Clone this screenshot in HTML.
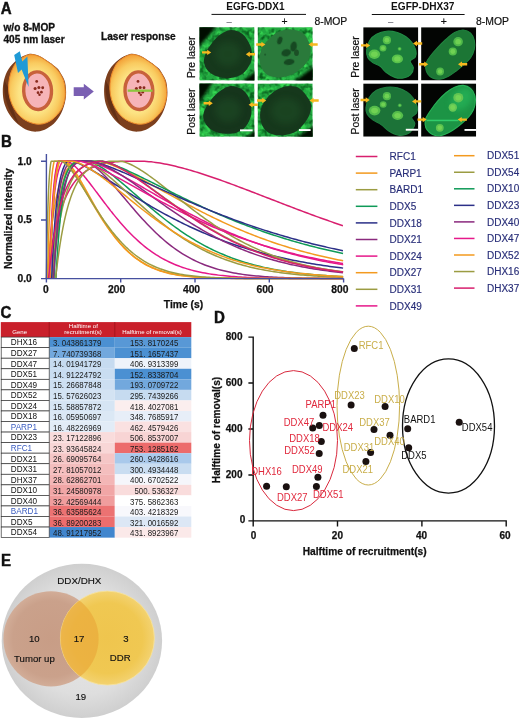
<!DOCTYPE html>
<html lang="en"><head><meta charset="utf-8"><title>Figure</title>
<style>
html,body{margin:0;padding:0;background:#fff;}
body{width:520px;height:720px;overflow:hidden;}
svg{display:block;font-family:"Liberation Sans", sans-serif;}
.b{font-weight:bold;}
.pl{font-size:16.4px;font-weight:bold;fill:#111;stroke:#111;stroke-width:0.45px;}
.t10b{font-size:10.1px;font-weight:bold;fill:#111;stroke:#111;stroke-width:0.3px;}
.ax{font-size:10.3px;font-weight:bold;fill:#111;stroke:#111;stroke-width:0.25px;}
.axd{font-size:10px;font-weight:bold;fill:#111;stroke:#111;stroke-width:0.25px;}
.lg{font-size:10px;fill:#272d78;stroke:#272d78;stroke-width:0.15px;}
.sc{font-size:10.4px;stroke:#111;stroke-width:0.2px;}
.th{font-size:6.1px;fill:#fff;text-anchor:middle;}
.tg{font-size:8.8px;fill:#111;}
.tn{font-size:9.3px;fill:#1a1a1a;}
.ve{font-size:9.6px;fill:#111;stroke:#111;stroke-width:0.15px;}
</style></head><body>
<svg width="520" height="720" viewBox="0 0 520 720">
<defs>
<filter id="bl1" x="-20%" y="-20%" width="140%" height="140%"><feGaussianBlur stdDeviation="0.9"/></filter>
<filter id="bl2" x="-20%" y="-20%" width="140%" height="140%"><feGaussianBlur stdDeviation="1.6"/></filter>
<filter id="bl3" x="-30%" y="-30%" width="160%" height="160%"><feGaussianBlur stdDeviation="3"/></filter>
<filter id="bl08" x="-20%" y="-20%" width="140%" height="140%"><feGaussianBlur stdDeviation="0.75"/></filter>
<filter id="bl05" x="-20%" y="-20%" width="140%" height="140%"><feGaussianBlur stdDeviation="0.5"/></filter>
<radialGradient id="cellg" cx="0.47" cy="0.55" r="0.58">
 <stop offset="0" stop-color="#fdea8c"/><stop offset="0.5" stop-color="#fce384"/><stop offset="0.74" stop-color="#f9cb60"/><stop offset="0.92" stop-color="#f4a63c"/><stop offset="1" stop-color="#ef8f2c"/>
</radialGradient>
<radialGradient id="greyg" cx="0.5" cy="0.5" r="0.5">
 <stop offset="0" stop-color="#e6e6e6"/><stop offset="0.7" stop-color="#dedede"/><stop offset="1" stop-color="#cfcfcf"/>
</radialGradient>
<radialGradient id="yelg" cx="0.5" cy="0.5" r="0.5">
 <stop offset="0" stop-color="#efc54e"/><stop offset="0.75" stop-color="#f0c852"/><stop offset="1" stop-color="#f3d270"/>
</radialGradient>
<radialGradient id="brog" cx="0.5" cy="0.5" r="0.5">
 <stop offset="0" stop-color="#c89d86"/><stop offset="0.8" stop-color="#caa18b"/><stop offset="1" stop-color="#d2ad98"/>
</radialGradient>
<g id="arrR"><path d="M0,-1.2 L5.2,-1.2 L5.2,-2.7 L9.2,0 L5.2,2.7 L5.2,1.2 L0,1.2 Z" fill="#f6b81f"/></g>
<g id="arrL"><path d="M0,0 L4,-2.7 L4,-1.2 L9.2,-1.2 L9.2,1.2 L4,1.2 L4,2.7 Z" fill="#f6b81f"/></g>
</defs>
<rect width="520" height="720" fill="#fff"/>

<text class="pl" transform="translate(0.8,13.7) scale(0.92,1)">A</text>
<text class="t10b" x="3.5" y="31.2">w/o 8-MOP</text>
<text class="t10b" x="3.5" y="43.2">405 nm laser</text>
<text class="t10b" x="101" y="40">Laser response</text>
<g transform="translate(0,0)"><path d="M28.70,54.00 C25.03,54.70 20.35,57.50 17.00,60.00 C13.65,62.50 10.77,65.67 8.60,69.00 C6.43,72.33 4.97,76.17 4.00,80.00 C3.03,83.83 2.72,88.00 2.80,92.00 C2.88,96.00 3.33,100.17 4.50,104.00 C5.67,107.83 7.55,111.62 9.80,115.00 C12.05,118.38 15.02,121.75 18.00,124.30 C20.98,126.85 24.45,129.08 27.70,130.30 C30.95,131.52 34.28,131.92 37.50,131.60 C40.72,131.28 43.95,130.08 47.00,128.40 C50.05,126.72 53.20,124.57 55.80,121.50 C58.40,118.43 60.90,114.25 62.60,110.00 C64.30,105.75 65.60,100.67 66.00,96.00 C66.40,91.33 65.85,85.75 65.00,82.00 C64.15,78.25 62.15,75.73 60.90,73.50 C59.65,71.27 58.90,70.12 57.50,68.60 C56.10,67.08 54.08,65.62 52.50,64.40 C50.92,63.18 50.25,62.73 48.00,61.30 C45.75,59.87 42.22,57.02 39.00,55.80 C35.78,54.58 32.37,53.30 28.70,54.00 Z" fill="#7c3f1d"/><path d="M4.2,80 C3,96 8,112 19,124.5 C14,113 9,100 8.4,88 Z" fill="#5d2c14" opacity="0.8"/><path d="M28.70,54.80 C32.23,54.03 35.78,55.20 39.00,56.40 C42.22,57.60 45.78,60.57 48.00,62.00 C50.22,63.43 50.83,63.80 52.30,65.00 C53.77,66.20 55.47,67.70 56.80,69.20 C58.13,70.70 59.08,71.78 60.30,74.00 C61.52,76.22 63.28,78.83 64.10,82.50 C64.92,86.17 65.55,91.75 65.20,96.00 C64.85,100.25 63.53,104.67 62.00,108.00 C60.47,111.33 58.00,113.83 56.00,116.00 C54.00,118.17 52.17,119.70 50.00,121.00 C47.83,122.30 45.33,123.30 43.00,123.80 C40.67,124.30 38.50,124.37 36.00,124.00 C33.50,123.63 30.63,122.87 28.00,121.60 C25.37,120.33 22.53,118.62 20.20,116.40 C17.87,114.18 15.68,111.20 14.00,108.30 C12.32,105.40 11.00,102.22 10.10,99.00 C9.20,95.78 8.70,92.50 8.60,89.00 C8.50,85.50 8.82,81.42 9.50,78.00 C10.18,74.58 11.32,71.33 12.70,68.50 C14.08,65.67 15.13,63.28 17.80,61.00 C20.47,58.72 25.17,55.57 28.70,54.80 Z" fill="url(#cellg)" stroke="#ee8c2c" stroke-width="1"/><ellipse cx="37.6" cy="90.7" rx="13.9" ry="18.8" transform="rotate(-3 37.6 90.7)" fill="#f6b4b8" stroke="#c8613b" stroke-width="3.4"/><circle cx="36.7" cy="81.4" r="1.4" fill="#8a2a1e"/><circle cx="35.1" cy="88.5" r="1.55" fill="#8a2a1e"/><circle cx="38.9" cy="87.4" r="1.5" fill="#8a2a1e"/><circle cx="42.7" cy="87.7" r="1.45" fill="#8a2a1e"/><circle cx="38" cy="92.7" r="1.35" fill="#8a2a1e"/><circle cx="41.4" cy="92.2" r="1.35" fill="#8a2a1e"/><circle cx="39.5" cy="94.8" r="1.25" fill="#8a2a1e"/><path d="M14.2,55 L19.8,51.3 L22.3,61.6 L27.4,56.4 L28.6,87 L21.6,69.4 L18,73 Z" fill="#1f9ad6"/></g>
<g transform="translate(101.3,0)"><path d="M28.70,54.00 C25.03,54.70 20.35,57.50 17.00,60.00 C13.65,62.50 10.77,65.67 8.60,69.00 C6.43,72.33 4.97,76.17 4.00,80.00 C3.03,83.83 2.72,88.00 2.80,92.00 C2.88,96.00 3.33,100.17 4.50,104.00 C5.67,107.83 7.55,111.62 9.80,115.00 C12.05,118.38 15.02,121.75 18.00,124.30 C20.98,126.85 24.45,129.08 27.70,130.30 C30.95,131.52 34.28,131.92 37.50,131.60 C40.72,131.28 43.95,130.08 47.00,128.40 C50.05,126.72 53.20,124.57 55.80,121.50 C58.40,118.43 60.90,114.25 62.60,110.00 C64.30,105.75 65.60,100.67 66.00,96.00 C66.40,91.33 65.85,85.75 65.00,82.00 C64.15,78.25 62.15,75.73 60.90,73.50 C59.65,71.27 58.90,70.12 57.50,68.60 C56.10,67.08 54.08,65.62 52.50,64.40 C50.92,63.18 50.25,62.73 48.00,61.30 C45.75,59.87 42.22,57.02 39.00,55.80 C35.78,54.58 32.37,53.30 28.70,54.00 Z" fill="#7c3f1d"/><path d="M4.2,80 C3,96 8,112 19,124.5 C14,113 9,100 8.4,88 Z" fill="#5d2c14" opacity="0.8"/><path d="M28.70,54.80 C32.23,54.03 35.78,55.20 39.00,56.40 C42.22,57.60 45.78,60.57 48.00,62.00 C50.22,63.43 50.83,63.80 52.30,65.00 C53.77,66.20 55.47,67.70 56.80,69.20 C58.13,70.70 59.08,71.78 60.30,74.00 C61.52,76.22 63.28,78.83 64.10,82.50 C64.92,86.17 65.55,91.75 65.20,96.00 C64.85,100.25 63.53,104.67 62.00,108.00 C60.47,111.33 58.00,113.83 56.00,116.00 C54.00,118.17 52.17,119.70 50.00,121.00 C47.83,122.30 45.33,123.30 43.00,123.80 C40.67,124.30 38.50,124.37 36.00,124.00 C33.50,123.63 30.63,122.87 28.00,121.60 C25.37,120.33 22.53,118.62 20.20,116.40 C17.87,114.18 15.68,111.20 14.00,108.30 C12.32,105.40 11.00,102.22 10.10,99.00 C9.20,95.78 8.70,92.50 8.60,89.00 C8.50,85.50 8.82,81.42 9.50,78.00 C10.18,74.58 11.32,71.33 12.70,68.50 C14.08,65.67 15.13,63.28 17.80,61.00 C20.47,58.72 25.17,55.57 28.70,54.80 Z" fill="url(#cellg)" stroke="#ee8c2c" stroke-width="1"/><ellipse cx="37.6" cy="90.7" rx="13.9" ry="18.8" transform="rotate(-3 37.6 90.7)" fill="#f6b4b8" stroke="#c8613b" stroke-width="3.4"/><circle cx="36.7" cy="81.4" r="1.4" fill="#8a2a1e"/><circle cx="35.1" cy="88.5" r="1.55" fill="#8a2a1e"/><circle cx="38.9" cy="87.4" r="1.5" fill="#8a2a1e"/><circle cx="42.7" cy="87.7" r="1.45" fill="#8a2a1e"/><circle cx="38" cy="92.7" r="1.35" fill="#8a2a1e"/><circle cx="41.4" cy="92.2" r="1.35" fill="#8a2a1e"/><circle cx="39.5" cy="94.8" r="1.25" fill="#8a2a1e"/><rect x="26.4" y="89.5" width="24.8" height="2.3" fill="#8cc63f"/></g>
<path d="M73.7,87.2 L83.8,87.2 L83.8,83.7 L93.8,91.6 L83.8,99.5 L83.8,96 L73.7,96 Z" fill="#7a5fb2"/>
<text x="255.4" y="9.8" text-anchor="middle" class="b" style="font-size:10px;fill:#111">EGFG-DDX1</text>
<rect x="211.5" y="13.9" width="94.5" height="1" fill="#111"/>
<text x="229.2" y="25.3" text-anchor="middle" style="font-size:9.6px" fill="#4a4a58">–</text>
<text x="284.6" y="25" text-anchor="middle" class="sc" fill="#111">+</text>
<text x="314.4" y="25.3" class="sc" fill="#111">8-MOP</text>
<text class="sc" transform="translate(195,57.3) rotate(-90)" text-anchor="middle" fill="#111">Pre laser</text>
<text class="sc" transform="translate(195,111.6) rotate(-90)" text-anchor="middle" fill="#111">Post laser</text>
<text x="422.8" y="9.7" text-anchor="middle" class="b" style="font-size:10.1px;fill:#111">EGFP-DHX37</text>
<rect x="371.8" y="14" width="92.8" height="1" fill="#111"/>
<text x="390.7" y="24.6" text-anchor="middle" style="font-size:9.6px" fill="#4a4a58">–</text>
<text x="443.8" y="25" text-anchor="middle" class="sc" fill="#111">+</text>
<text x="476" y="25.3" class="sc" fill="#111">8-MOP</text>
<text class="sc" transform="translate(358.7,57) rotate(-90)" text-anchor="middle" fill="#111">Pre laser</text>
<text class="sc" transform="translate(358.7,111.3) rotate(-90)" text-anchor="middle" fill="#111">Post laser</text>
<clipPath id="c1"><rect x="199.4" y="27.2" width="55.1" height="53.3"/></clipPath>
<clipPath id="c2"><rect x="257.6" y="27.2" width="55.1" height="53.3"/></clipPath>
<clipPath id="c3"><rect x="199.4" y="83.4" width="55.1" height="53.3"/></clipPath>
<clipPath id="c4"><rect x="257.6" y="83.4" width="55.1" height="53.3"/></clipPath>
<clipPath id="c5"><rect x="363.2" y="27.2" width="55.1" height="53.3"/></clipPath>
<clipPath id="c6"><rect x="421.1" y="27.2" width="55.1" height="53.3"/></clipPath>
<clipPath id="c7"><rect x="363.2" y="83.4" width="55.1" height="53.3"/></clipPath>
<clipPath id="c8"><rect x="421.1" y="83.4" width="55.1" height="53.3"/></clipPath>
<g clip-path="url(#c1)"><rect x="199.4" y="27.2" width="55.1" height="53.3" fill="#22a840"/><filter id="tx1" x="0" y="0" width="100%" height="100%" color-interpolation-filters="sRGB"><feTurbulence type="fractalNoise" baseFrequency="0.16" numOctaves="2" seed="3" result="n"/><feColorMatrix in="n" type="matrix" values="0 0 0 0 0.22  0 0 0 0 0.86  0 0 0 0 0.33  0 3.2 0 0 -1.45"/><feComposite in2="SourceGraphic" operator="in"/></filter><filter id="td1" x="0" y="0" width="100%" height="100%" color-interpolation-filters="sRGB"><feTurbulence type="fractalNoise" baseFrequency="0.2" numOctaves="2" seed="14" result="n"/><feColorMatrix in="n" type="matrix" values="0 0 0 0 0.04  0 0 0 0 0.38  0 0 0 0 0.12  3.0 0 0 0 -1.35"/><feComposite in2="SourceGraphic" operator="in"/></filter><rect x="199.4" y="27.2" width="55.1" height="53.3" fill="#fff" filter="url(#tx1)"/><rect x="199.4" y="27.2" width="55.1" height="53.3" fill="#fff" filter="url(#td1)"/><polygon points="195,23 219,23 195,52" fill="#020a04" filter="url(#bl2)"/><polygon points="258,84 240,84 258,69" fill="#020a04" filter="url(#bl2)"/><path d="M231.69,30.00 C235.38,30.00 239.69,31.74 242.77,34.31 C245.85,36.87 248.62,41.90 250.15,45.38 C251.69,48.87 252.00,52.15 252.00,55.23 C252.00,58.31 251.69,60.77 250.15,63.85 C248.62,66.92 246.05,71.33 242.77,73.69 C239.49,76.05 234.56,77.49 230.46,78.00 C226.36,78.51 221.85,77.90 218.15,76.77 C214.46,75.64 210.67,73.59 208.31,71.23 C205.95,68.87 204.41,65.69 204.00,62.62 C203.59,59.54 204.51,56.05 205.85,52.77 C207.18,49.49 209.54,46.00 212.00,42.92 C214.46,39.85 217.33,36.46 220.62,34.31 C223.90,32.15 228.00,30.00 231.69,30.00 Z" fill="#15391e" filter="url(#bl08)"/><ellipse cx="228" cy="54" rx="13" ry="12" fill="#245a2c" opacity="0.35" filter="url(#bl3)"/></g>
<g clip-path="url(#c3)"><rect x="199.4" y="83.4" width="55.1" height="53.3" fill="#22a840"/><filter id="tx3" x="0" y="0" width="100%" height="100%" color-interpolation-filters="sRGB"><feTurbulence type="fractalNoise" baseFrequency="0.16" numOctaves="2" seed="8" result="n"/><feColorMatrix in="n" type="matrix" values="0 0 0 0 0.22  0 0 0 0 0.86  0 0 0 0 0.33  0 3.2 0 0 -1.45"/><feComposite in2="SourceGraphic" operator="in"/></filter><filter id="td3" x="0" y="0" width="100%" height="100%" color-interpolation-filters="sRGB"><feTurbulence type="fractalNoise" baseFrequency="0.2" numOctaves="2" seed="19" result="n"/><feColorMatrix in="n" type="matrix" values="0 0 0 0 0.04  0 0 0 0 0.38  0 0 0 0 0.12  3.0 0 0 0 -1.35"/><feComposite in2="SourceGraphic" operator="in"/></filter><rect x="199.4" y="83.4" width="55.1" height="53.3" fill="#fff" filter="url(#tx3)"/><rect x="199.4" y="83.4" width="55.1" height="53.3" fill="#fff" filter="url(#td3)"/><polygon points="195,79 215,79 195,109" fill="#020a04" filter="url(#bl2)"/><polygon points="258,140 243,140 258,128" fill="#020a04" filter="url(#bl2)"/><path d="M230.46,86.00 C234.15,85.59 238.46,87.13 241.54,89.08 C244.62,91.03 247.28,94.41 248.92,97.69 C250.56,100.97 251.18,105.28 251.38,108.77 C251.59,112.26 251.38,115.33 250.15,118.62 C248.92,121.90 246.87,126.00 244.00,128.46 C241.13,130.92 237.23,132.67 232.92,133.38 C228.62,134.10 222.26,133.79 218.15,132.77 C214.05,131.74 210.77,129.59 208.31,127.23 C205.85,124.87 204.00,121.49 203.38,118.62 C202.77,115.74 203.38,113.08 204.62,110.00 C205.85,106.92 208.31,103.23 210.77,100.15 C213.23,97.08 216.10,93.90 219.38,91.54 C222.67,89.18 226.77,86.41 230.46,86.00 Z" fill="#14361c" filter="url(#bl08)"/><ellipse cx="228" cy="110" rx="13" ry="12" fill="#245a2c" opacity="0.35" filter="url(#bl3)"/></g>
<g clip-path="url(#c2)"><rect x="257.6" y="27.2" width="55.1" height="53.3" fill="#22a840"/><filter id="tx2" x="0" y="0" width="100%" height="100%" color-interpolation-filters="sRGB"><feTurbulence type="fractalNoise" baseFrequency="0.16" numOctaves="2" seed="5" result="n"/><feColorMatrix in="n" type="matrix" values="0 0 0 0 0.22  0 0 0 0 0.86  0 0 0 0 0.33  0 3.2 0 0 -1.45"/><feComposite in2="SourceGraphic" operator="in"/></filter><filter id="td2" x="0" y="0" width="100%" height="100%" color-interpolation-filters="sRGB"><feTurbulence type="fractalNoise" baseFrequency="0.2" numOctaves="2" seed="16" result="n"/><feColorMatrix in="n" type="matrix" values="0 0 0 0 0.04  0 0 0 0 0.38  0 0 0 0 0.12  3.0 0 0 0 -1.35"/><feComposite in2="SourceGraphic" operator="in"/></filter><rect x="257.6" y="27.2" width="55.1" height="53.3" fill="#fff" filter="url(#tx2)"/><rect x="257.6" y="27.2" width="55.1" height="53.3" fill="#fff" filter="url(#td2)"/><polygon points="316,84 291,84 316,65" fill="#020a04" filter="url(#bl2)"/><path d="M270.00,38.00 C272.67,35.54 275.13,33.28 278.62,31.85 C282.10,30.41 287.03,29.28 290.92,29.38 C294.82,29.49 299.13,30.62 302.00,32.46 C304.87,34.31 306.72,37.49 308.15,40.46 C309.59,43.44 310.62,47.03 310.62,50.31 C310.62,53.59 309.79,57.08 308.15,60.15 C306.51,63.23 303.64,66.31 300.77,68.77 C297.90,71.23 294.62,73.49 290.92,74.92 C287.23,76.36 282.51,77.38 278.62,77.38 C274.72,77.38 270.41,76.56 267.54,74.92 C264.67,73.28 262.72,70.41 261.38,67.54 C260.05,64.67 259.33,61.18 259.54,57.69 C259.74,54.21 260.87,49.90 262.62,46.62 C264.36,43.33 267.33,40.46 270.00,38.00 Z" fill="#2a7a3a" filter="url(#bl08)"/><ellipse cx="279.8" cy="40.5" rx="2.4" ry="4" transform="rotate(20 279.8 40.5)" fill="#184a24" filter="url(#bl08)"/><ellipse cx="293.6" cy="46.6" rx="3.2" ry="5" transform="rotate(10 293.6 46.6)" fill="#184a24" filter="url(#bl08)"/><ellipse cx="286.2" cy="52.8" rx="4.8" ry="3.6" transform="rotate(-15 286.2 52.8)" fill="#184a24" filter="url(#bl08)"/><ellipse cx="289.1" cy="62.0" rx="5.4" ry="3" transform="rotate(-8 289.1 62.0)" fill="#184a24" filter="url(#bl08)"/><ellipse cx="265.1" cy="54.6" rx="1" ry="1.2" transform="rotate(0 265.1 54.6)" fill="#1f5f2d" filter="url(#bl08)"/><ellipse cx="296.5" cy="52.8" rx="2.4" ry="3.2" transform="rotate(0 296.5 52.8)" fill="#1b5027" filter="url(#bl08)"/></g>
<g clip-path="url(#c4)"><rect x="257.6" y="83.4" width="55.1" height="53.3" fill="#22a840"/><filter id="tx4" x="0" y="0" width="100%" height="100%" color-interpolation-filters="sRGB"><feTurbulence type="fractalNoise" baseFrequency="0.16" numOctaves="2" seed="12" result="n"/><feColorMatrix in="n" type="matrix" values="0 0 0 0 0.22  0 0 0 0 0.86  0 0 0 0 0.33  0 3.2 0 0 -1.45"/><feComposite in2="SourceGraphic" operator="in"/></filter><filter id="td4" x="0" y="0" width="100%" height="100%" color-interpolation-filters="sRGB"><feTurbulence type="fractalNoise" baseFrequency="0.2" numOctaves="2" seed="23" result="n"/><feColorMatrix in="n" type="matrix" values="0 0 0 0 0.04  0 0 0 0 0.38  0 0 0 0 0.12  3.0 0 0 0 -1.35"/><feComposite in2="SourceGraphic" operator="in"/></filter><rect x="257.6" y="83.4" width="55.1" height="53.3" fill="#fff" filter="url(#tx4)"/><rect x="257.6" y="83.4" width="55.1" height="53.3" fill="#fff" filter="url(#td4)"/><polygon points="316,140 293,140 316,124" fill="#020a04" filter="url(#bl2)"/><path d="M272.46,92.77 C274.92,90.92 278.00,88.97 281.08,87.85 C284.15,86.72 287.85,85.90 290.92,86.00 C294.00,86.10 296.87,86.72 299.54,88.46 C302.21,90.21 304.97,93.69 306.92,96.46 C308.87,99.23 310.82,102.00 311.23,105.08 C311.64,108.15 310.72,111.64 309.38,114.92 C308.05,118.21 305.69,121.90 303.23,124.77 C300.77,127.64 298.10,130.41 294.62,132.15 C291.13,133.90 286.41,135.03 282.31,135.23 C278.21,135.44 273.18,134.72 270.00,133.38 C266.82,132.05 264.87,129.90 263.23,127.23 C261.59,124.56 260.46,120.67 260.15,117.38 C259.85,114.10 260.36,110.62 261.38,107.54 C262.41,104.46 264.46,101.38 266.31,98.92 C268.15,96.46 270.00,94.62 272.46,92.77 Z" fill="#15391e" filter="url(#bl08)"/><ellipse cx="286" cy="111" rx="15" ry="13" fill="#245a2c" opacity="0.35" filter="url(#bl3)"/></g>
<g clip-path="url(#c5)"><rect x="363.2" y="27.2" width="55.1" height="53.3" fill="#030503"/><path d="M366.62,50.31 C366.92,47.44 368.05,43.13 369.69,40.46 C371.33,37.79 373.69,35.85 376.46,34.31 C379.23,32.77 382.82,31.54 386.31,31.23 C389.79,30.92 394.10,31.54 397.38,32.46 C400.67,33.38 403.54,35.03 406.00,36.77 C408.46,38.51 410.51,40.67 412.15,42.92 C413.79,45.18 415.31,47.95 415.85,50.31 C416.38,52.67 416.30,55.27 415.35,57.08 C414.41,58.88 410.51,59.35 410.18,61.14 C409.86,62.92 413.36,65.49 413.38,67.78 C413.41,70.08 411.95,73.22 410.31,74.92 C408.67,76.63 406.10,77.59 403.54,78.00 C400.97,78.41 397.79,78.31 394.92,77.38 C392.05,76.46 388.77,74.31 386.31,72.46 C383.85,70.62 382.41,67.95 380.15,66.31 C377.90,64.67 374.82,64.05 372.77,62.62 C370.72,61.18 368.87,59.74 367.85,57.69 C366.82,55.64 366.31,53.18 366.62,50.31 Z" fill="#1d7e3a" stroke="#218a44" stroke-width="1.1" filter="url(#bl08)"/><ellipse cx="386.9" cy="40.2" rx="4.1" ry="4.1" fill="#52bd4a" filter="url(#bl05)"/><ellipse cx="386.9" cy="40.2" rx="2.38" ry="2.38" fill="#78d856" opacity="0.8" filter="url(#bl05)"/><ellipse cx="383.0" cy="48.2" rx="3.4" ry="3.2" fill="#52bd4a" filter="url(#bl05)"/><ellipse cx="383.0" cy="48.2" rx="1.97" ry="1.86" fill="#78d856" opacity="0.8" filter="url(#bl05)"/><ellipse cx="374.4" cy="54.2" rx="5.7" ry="4.7" fill="#58c24c" filter="url(#bl05)"/><ellipse cx="374.4" cy="54.2" rx="3.31" ry="2.73" fill="#78d856" opacity="0.8" filter="url(#bl05)"/><ellipse cx="397.4" cy="58.9" rx="5.6" ry="4.4" fill="#58c24c" filter="url(#bl05)"/><ellipse cx="397.4" cy="58.9" rx="3.25" ry="2.55" fill="#78d856" opacity="0.8" filter="url(#bl05)"/><ellipse cx="399.6" cy="48.8" rx="1.9" ry="1.9" fill="#3fb044" filter="url(#bl05)"/><ellipse cx="399.6" cy="48.8" rx="1.10" ry="1.10" fill="#78d856" opacity="0.8" filter="url(#bl05)"/></g>
<g clip-path="url(#c7)"><rect x="363.2" y="83.4" width="55.1" height="53.3" fill="#030503"/><path d="M366.00,107.54 C366.31,104.77 367.33,100.56 369.08,97.69 C370.82,94.82 373.59,92.05 376.46,90.31 C379.33,88.56 382.82,87.64 386.31,87.23 C389.79,86.82 393.90,87.03 397.38,87.85 C400.87,88.67 404.56,90.41 407.23,92.15 C409.90,93.90 411.74,95.95 413.38,98.31 C415.03,100.67 416.54,103.85 417.08,106.31 C417.61,108.77 417.49,111.23 416.58,113.08 C415.68,114.92 411.95,115.68 411.66,117.38 C411.37,119.09 414.74,121.24 414.86,123.29 C414.98,125.34 413.67,127.91 412.40,129.69 C411.13,131.48 409.53,133.08 407.23,134.00 C404.93,134.92 401.69,135.74 398.62,135.23 C395.54,134.72 391.64,132.67 388.77,130.92 C385.90,129.18 384.05,126.62 381.38,124.77 C378.72,122.92 375.13,121.59 372.77,119.85 C370.41,118.10 368.36,116.36 367.23,114.31 C366.10,112.26 365.69,110.31 366.00,107.54 Z" fill="#1e7338" stroke="#207e40" stroke-width="1.1" filter="url(#bl08)"/><ellipse cx="386.9" cy="96.2" rx="4.1" ry="4.1" fill="#4fb84a" filter="url(#bl05)"/><ellipse cx="386.9" cy="96.2" rx="2.38" ry="2.38" fill="#78d856" opacity="0.8" filter="url(#bl05)"/><ellipse cx="383.2" cy="104.5" rx="3.4" ry="3.3" fill="#4fb84a" filter="url(#bl05)"/><ellipse cx="383.2" cy="104.5" rx="1.97" ry="1.91" fill="#78d856" opacity="0.8" filter="url(#bl05)"/><ellipse cx="374.6" cy="110.6" rx="5.8" ry="4.8" fill="#55bd4c" filter="url(#bl05)"/><ellipse cx="374.6" cy="110.6" rx="3.36" ry="2.78" fill="#78d856" opacity="0.8" filter="url(#bl05)"/><ellipse cx="397.6" cy="115.5" rx="5.6" ry="4.4" fill="#55bd4c" filter="url(#bl05)"/><ellipse cx="397.6" cy="115.5" rx="3.25" ry="2.55" fill="#78d856" opacity="0.8" filter="url(#bl05)"/><ellipse cx="399.8" cy="105.3" rx="1.9" ry="1.9" fill="#3aa644" filter="url(#bl05)"/><ellipse cx="399.8" cy="105.3" rx="1.10" ry="1.10" fill="#78d856" opacity="0.8" filter="url(#bl05)"/></g>
<g clip-path="url(#c6)"><rect x="421.1" y="27.2" width="55.1" height="53.3" fill="#030503"/><path d="M426.31,62.62 C427.03,60.67 428.15,58.92 430.00,56.46 C431.85,54.00 434.72,50.72 437.38,47.85 C440.05,44.97 443.13,41.79 446.00,39.23 C448.87,36.67 451.74,34.00 454.62,32.46 C457.49,30.92 460.56,29.90 463.23,30.00 C465.90,30.10 468.77,31.33 470.62,33.08 C472.46,34.82 473.69,37.79 474.31,40.46 C474.92,43.13 474.92,46.21 474.31,49.08 C473.69,51.95 472.46,55.03 470.62,57.69 C468.77,60.36 465.69,62.82 463.23,65.08 C460.77,67.33 458.31,69.38 455.85,71.23 C453.38,73.08 451.13,74.82 448.46,76.15 C445.79,77.49 442.51,78.92 439.85,79.23 C437.18,79.54 434.51,78.92 432.46,78.00 C430.41,77.08 428.67,75.33 427.54,73.69 C426.41,72.05 425.90,70.00 425.69,68.15 C425.49,66.31 425.59,64.56 426.31,62.62 Z" fill="#1c7636" stroke="#20823e" stroke-width="1.1" filter="url(#bl08)"/><ellipse cx="458.1" cy="41.7" rx="4.8" ry="4.6" fill="#4fb84a" filter="url(#bl05)"/><ellipse cx="458.1" cy="41.7" rx="2.78" ry="2.67" fill="#78d856" opacity="0.8" filter="url(#bl05)"/><ellipse cx="452.8" cy="51.5" rx="4.1" ry="4.1" fill="#52bd4a" filter="url(#bl05)"/><ellipse cx="452.8" cy="51.5" rx="2.38" ry="2.38" fill="#78d856" opacity="0.8" filter="url(#bl05)"/><ellipse cx="440.1" cy="71.5" rx="3.9" ry="3.9" fill="#4fb84a" filter="url(#bl05)"/><ellipse cx="440.1" cy="71.5" rx="2.26" ry="2.26" fill="#78d856" opacity="0.8" filter="url(#bl05)"/></g>
<g clip-path="url(#c8)"><rect x="421.1" y="83.4" width="55.1" height="53.3" fill="#030503"/><path d="M425.69,118.62 C426.51,116.46 428.05,114.10 430.00,111.23 C431.95,108.36 434.72,104.46 437.38,101.38 C440.05,98.31 443.13,95.13 446.00,92.77 C448.87,90.41 451.74,88.46 454.62,87.23 C457.49,86.00 460.56,85.18 463.23,85.38 C465.90,85.59 468.67,86.72 470.62,88.46 C472.56,90.21 474.21,93.08 474.92,95.85 C475.64,98.62 475.54,102.10 474.92,105.08 C474.31,108.05 472.97,111.03 471.23,113.69 C469.49,116.36 466.82,118.82 464.46,121.08 C462.10,123.33 459.74,125.28 457.08,127.23 C454.41,129.18 451.33,131.33 448.46,132.77 C445.59,134.21 442.51,135.54 439.85,135.85 C437.18,136.15 434.62,135.64 432.46,134.62 C430.31,133.59 428.15,131.44 426.92,129.69 C425.69,127.95 425.28,126.00 425.08,124.15 C424.87,122.31 424.87,120.77 425.69,118.62 Z" fill="#1f9444" stroke="#27b056" stroke-width="1.1" filter="url(#bl08)"/><ellipse cx="462" cy="99" rx="9" ry="13" transform="rotate(40 462 99)" fill="#2cc060" opacity="0.55" filter="url(#bl3)"/><ellipse cx="458.3" cy="97.7" rx="5" ry="4.8" fill="#62c452" filter="url(#bl05)"/><ellipse cx="458.3" cy="97.7" rx="2.90" ry="2.78" fill="#78d856" opacity="0.8" filter="url(#bl05)"/><ellipse cx="452.8" cy="107.5" rx="4.2" ry="4.2" fill="#66c854" filter="url(#bl05)"/><ellipse cx="452.8" cy="107.5" rx="2.44" ry="2.44" fill="#78d856" opacity="0.8" filter="url(#bl05)"/><ellipse cx="439.8" cy="127.8" rx="3.9" ry="3.9" fill="#5cc250" filter="url(#bl05)"/><ellipse cx="439.8" cy="127.8" rx="2.26" ry="2.26" fill="#78d856" opacity="0.8" filter="url(#bl05)"/><rect x="426.5" y="119.7" width="32" height="1.5" fill="#35d672" opacity="0.85" filter="url(#bl05)"/></g>
<rect x="240" y="129.4" width="12.6" height="1.9" fill="#fff"/>
<rect x="299" y="129.1" width="11.6" height="1.9" fill="#fff"/>
<rect x="405.8" y="128.8" width="12.5" height="1.9" fill="#fff"/>
<rect x="464.5" y="129" width="11.7" height="1.9" fill="#fff"/>
<use href="#arrR" x="202" y="52.4"/>
<use href="#arrL" x="245.8" y="54.2"/>
<use href="#arrR" x="256.2" y="44.5"/>
<use href="#arrL" x="308.5" y="44.5"/>
<use href="#arrR" x="203.6" y="103.2"/>
<use href="#arrL" x="248.6" y="104.8"/>
<use href="#arrR" x="257" y="100.5"/>
<use href="#arrL" x="309.5" y="100.5"/>
<use href="#arrR" x="361" y="45.4"/>
<use href="#arrL" x="413" y="43.5"/>
<use href="#arrR" x="419" y="64.2"/>
<use href="#arrL" x="458" y="64.2"/>
<use href="#arrR" x="360.5" y="100"/>
<use href="#arrL" x="412" y="101.4"/>
<use href="#arrR" x="417.5" y="119.6"/>
<use href="#arrL" x="457.7" y="119.6"/>
<text class="pl" transform="translate(0.9,146.6) scale(0.92,1)">B</text>
<path d="M46.40,278.60 L46.77,275.99 L47.14,273.44 L47.51,270.95 L47.89,268.51 L48.26,266.13 L48.63,263.79 L49.00,261.51 L49.37,259.28 L49.74,257.10 L50.12,254.96 L50.49,252.88 L50.86,250.83 L51.23,248.84 L51.60,246.89 L51.97,244.98 L52.34,243.11 L52.72,241.28 L53.09,239.49 L53.46,237.75 L53.83,236.04 L54.20,234.37 L54.57,232.73 L54.95,231.13 L55.32,229.57 L55.69,228.04 L56.06,226.54 L56.43,225.08 L56.80,223.65 L57.17,222.25 L57.55,220.88 L57.92,219.54 L58.29,218.24 L58.66,216.95 L59.03,215.70 L59.40,214.48 L59.78,213.28 L60.15,212.11 L60.52,210.96 L60.89,209.84 L61.26,208.75 L61.63,207.68 L62.01,206.63 L62.38,205.60 L62.75,204.60 L63.12,203.62 L63.49,202.66 L63.86,201.72 L64.23,200.81 L64.61,199.91 L64.98,199.03 L65.35,198.17 L65.72,197.33 L66.09,196.51 L66.46,195.71 L66.84,194.92 L67.21,194.16 L67.58,193.41 L67.95,192.67 L68.32,191.95 L68.69,191.25 L69.06,190.56 L69.44,189.89 L69.81,189.23 L70.18,188.59 L70.55,187.96 L70.92,187.35 L71.29,186.75 L71.67,186.16 L72.04,185.58 L72.41,185.02 L72.78,184.47 L73.15,183.93 L73.52,183.40 L73.89,182.89 L74.27,182.39 L74.64,181.89 L75.01,181.41 L75.38,180.94 L75.75,180.48 L76.12,180.03 L76.50,179.59 L76.87,179.16 L77.24,178.74 L77.61,178.33 L77.98,177.92 L78.35,177.53 L78.72,177.14 L79.10,176.77 L79.47,176.40 L79.84,176.04 L80.21,175.68 L80.58,175.34 L80.95,175.00 L81.33,174.67 L81.70,174.35 L82.07,174.03 L82.44,173.72 L82.81,173.42 L83.18,173.13 L83.56,172.84 L83.93,172.55 L84.30,172.28 L84.67,172.01 L85.04,171.74 L85.41,171.48 L85.78,171.23 L86.16,170.98 L86.53,170.74 L86.90,170.51 L87.27,170.28 L87.64,170.05 L88.01,169.83 L88.39,169.61 L88.76,169.40 L89.13,169.19 L89.50,168.99 L89.87,168.79 L90.24,168.60 L90.61,168.41 L90.99,168.22 L91.36,168.04 L91.73,167.87 L92.10,167.69 L92.47,167.52 L92.84,167.36 L93.22,167.20 L93.59,167.04 L93.96,166.88 L94.33,166.73 L94.70,166.58 L95.07,166.44 L95.44,166.30 L95.82,166.16 L96.19,166.02 L96.56,165.89 L96.93,165.76 L97.30,165.63 L97.67,165.51 L98.05,165.39 L98.42,165.27 L98.79,165.15 L99.16,165.04 L99.53,164.93 L99.90,164.82 L100.27,164.71 L100.65,164.61 L101.02,164.51 L101.39,164.41 L101.76,164.31 L102.13,164.21 L102.50,164.12 L102.88,164.03 L103.25,163.94 L103.62,163.85 L103.99,163.77 L104.36,163.69 L104.73,163.60 L105.10,163.52 L105.48,163.45 L105.85,163.37 L106.22,163.30 L106.59,163.22 L106.96,163.15 L107.33,163.08 L107.71,163.01 L108.08,162.95 L108.45,162.88 L108.82,162.82 L109.19,162.76 L109.56,162.70 L109.94,162.64 L110.31,162.58 L110.68,162.52 L111.05,162.46 L111.42,162.41 L111.79,162.36 L112.16,162.30 L112.54,162.25 L112.91,162.20 L113.28,162.15 L115.51,161.88 L117.74,161.65 L119.97,161.44 L122.20,161.30 L124.43,161.30 L126.65,161.30 L128.88,161.30 L131.11,161.30 L133.34,161.30 L135.57,161.30 L137.80,161.30 L140.03,161.30 L142.26,161.30 L144.49,161.34 L146.72,161.46 L148.95,161.64 L151.18,161.86 L153.41,162.12 L155.64,162.42 L157.87,162.75 L160.09,163.11 L162.32,163.50 L164.55,163.92 L166.78,164.36 L169.01,164.82 L171.24,165.31 L173.47,165.82 L175.70,166.35 L177.93,166.90 L180.16,167.46 L182.39,168.05 L184.62,168.65 L186.85,169.27 L189.08,169.90 L191.30,170.55 L193.53,171.21 L195.76,171.89 L197.99,172.57 L200.22,173.28 L202.45,173.99 L204.68,174.71 L206.91,175.45 L209.14,176.19 L211.37,176.95 L213.60,177.71 L215.83,178.48 L218.06,179.26 L220.29,180.05 L222.51,180.85 L224.74,181.65 L226.97,182.46 L229.20,183.28 L231.43,184.10 L233.66,184.92 L235.89,185.75 L238.12,186.59 L240.35,187.43 L242.58,188.27 L244.81,189.12 L247.04,189.97 L249.27,190.82 L251.50,191.68 L253.72,192.54 L255.95,193.40 L258.18,194.26 L260.41,195.12 L262.64,195.98 L264.87,196.85 L267.10,197.71 L269.33,198.57 L271.56,199.44 L273.79,200.30 L276.02,201.16 L278.25,202.03 L280.48,202.89 L282.71,203.75 L284.94,204.60 L287.16,205.46 L289.39,206.31 L291.62,207.16 L293.85,208.01 L296.08,208.86 L298.31,209.70 L300.54,210.54 L302.77,211.38 L305.00,212.21 L307.23,213.04 L309.46,213.87 L311.69,214.69 L313.92,215.51 L316.15,216.33 L318.37,217.14 L320.60,217.94 L322.83,218.74 L325.06,219.54 L327.29,220.33 L329.52,221.12 L331.75,221.90 L333.98,222.68 L336.21,223.45 L338.44,224.21 L340.67,224.97 L342.90,225.73" fill="none" stroke="#d81f6e" stroke-width="1.5" stroke-linejoin="round"/>
<path d="M47.01,278.60 L47.38,273.29 L47.76,268.22 L48.13,263.37 L48.50,258.74 L48.87,254.31 L49.24,250.08 L49.61,246.04 L49.99,242.17 L50.36,238.48 L50.73,234.96 L51.10,231.58 L51.47,228.36 L51.84,225.29 L52.21,222.35 L52.59,219.54 L52.96,216.85 L53.33,214.29 L53.70,211.83 L54.07,209.49 L54.44,207.25 L54.82,205.11 L55.19,203.07 L55.56,201.12 L55.93,199.25 L56.30,197.47 L56.67,195.76 L57.04,194.13 L57.42,192.58 L57.79,191.09 L58.16,189.67 L58.53,188.31 L58.90,187.01 L59.27,185.77 L59.65,184.59 L60.02,183.46 L60.39,182.37 L60.76,181.34 L61.13,180.35 L61.50,179.41 L61.88,178.51 L62.25,177.65 L62.62,176.82 L62.99,176.03 L63.36,175.28 L63.73,174.56 L64.10,173.88 L64.48,173.22 L64.85,172.59 L65.22,171.99 L65.59,171.42 L65.96,170.88 L66.33,170.35 L66.71,169.85 L67.08,169.38 L67.45,168.92 L67.82,168.48 L68.19,168.07 L68.56,167.67 L68.93,167.29 L69.31,166.93 L69.68,166.58 L70.05,166.25 L70.42,165.93 L70.79,165.63 L71.16,165.34 L71.54,165.06 L71.91,164.80 L72.28,164.54 L72.65,164.30 L73.02,164.07 L73.39,163.85 L73.76,163.64 L74.14,163.44 L74.51,163.25 L74.88,163.06 L75.25,162.89 L75.62,162.72 L75.99,162.56 L76.37,162.41 L76.74,162.26 L77.11,162.12 L77.48,161.99 L77.85,161.86 L78.22,161.74 L78.59,161.62 L78.97,161.51 L79.34,161.40 L79.71,161.30 L80.08,161.30 L80.45,161.30 L80.82,161.30 L81.20,161.30 L81.57,161.30 L81.94,161.30 L82.31,161.30 L82.68,161.30 L83.05,161.30 L83.42,161.30 L83.80,161.30 L84.17,161.30 L84.54,161.30 L84.91,161.30 L85.28,161.30 L85.65,161.30 L86.03,161.30 L86.40,161.30 L86.77,161.30 L87.14,161.30 L87.51,161.30 L87.88,161.30 L88.26,161.30 L88.63,161.30 L89.00,161.30 L89.37,161.30 L89.74,161.30 L90.11,161.30 L90.48,161.30 L90.86,161.30 L91.23,161.30 L91.60,161.30 L91.97,161.30 L92.34,161.30 L92.71,161.30 L93.09,161.30 L93.46,161.30 L93.83,161.30 L94.20,161.30 L94.57,161.30 L94.94,161.30 L95.31,161.30 L95.69,161.30 L96.06,161.30 L96.43,161.30 L96.80,161.30 L97.17,161.30 L97.54,161.30 L97.92,161.30 L98.29,161.30 L98.66,161.31 L99.03,161.35 L99.40,161.40 L99.77,161.45 L100.14,161.51 L100.52,161.58 L100.89,161.65 L101.26,161.73 L101.63,161.81 L102.00,161.90 L102.37,161.98 L102.75,162.08 L103.12,162.17 L103.49,162.27 L103.86,162.37 L104.23,162.47 L104.60,162.58 L104.97,162.68 L105.35,162.79 L105.72,162.91 L106.09,163.02 L106.46,163.14 L106.83,163.26 L107.20,163.38 L107.58,163.50 L107.95,163.63 L108.32,163.75 L108.69,163.88 L109.06,164.01 L109.43,164.14 L109.81,164.28 L110.18,164.41 L110.55,164.55 L110.92,164.69 L111.29,164.82 L111.66,164.97 L112.03,165.11 L112.41,165.25 L112.78,165.40 L113.15,165.54 L113.52,165.69 L115.75,166.60 L117.98,167.56 L120.21,168.54 L122.44,169.56 L124.67,170.61 L126.90,171.69 L129.13,172.79 L131.35,173.90 L133.58,175.04 L135.81,176.19 L138.04,177.36 L140.27,178.54 L142.50,179.73 L144.73,180.93 L146.96,182.14 L149.19,183.36 L151.42,184.58 L153.65,185.81 L155.88,187.04 L158.11,188.27 L160.34,189.51 L162.57,190.74 L164.79,191.98 L167.02,193.21 L169.25,194.44 L171.48,195.67 L173.71,196.90 L175.94,198.12 L178.17,199.34 L180.40,200.55 L182.63,201.76 L184.86,202.96 L187.09,204.16 L189.32,205.35 L191.55,206.53 L193.78,207.70 L196.00,208.86 L198.23,210.02 L200.46,211.17 L202.69,212.30 L204.92,213.43 L207.15,214.55 L209.38,215.65 L211.61,216.75 L213.84,217.84 L216.07,218.91 L218.30,219.98 L220.53,221.03 L222.76,222.07 L224.99,223.10 L227.21,224.12 L229.44,225.13 L231.67,226.12 L233.90,227.10 L236.13,228.07 L238.36,229.03 L240.59,229.98 L242.82,230.91 L245.05,231.83 L247.28,232.74 L249.51,233.64 L251.74,234.52 L253.97,235.40 L256.20,236.26 L258.43,237.10 L260.65,237.94 L262.88,238.76 L265.11,239.57 L267.34,240.37 L269.57,241.15 L271.80,241.93 L274.03,242.69 L276.26,243.44 L278.49,244.18 L280.72,244.90 L282.95,245.62 L285.18,246.32 L287.41,247.01 L289.64,247.69 L291.86,248.35 L294.09,249.01 L296.32,249.65 L298.55,250.29 L300.78,250.91 L303.01,251.52 L305.24,252.12 L307.47,252.71 L309.70,253.29 L311.93,253.86 L314.16,254.41 L316.39,254.96 L318.62,255.50 L320.85,256.02 L323.07,256.54 L325.30,257.05 L327.53,257.55 L329.76,258.03 L331.99,258.51 L334.22,258.98 L336.45,259.44 L338.68,259.89 L340.91,260.33 L343.14,260.77" fill="none" stroke="#f39a1f" stroke-width="1.5" stroke-linejoin="round"/>
<path d="M52.47,278.60 L52.85,274.68 L53.22,270.89 L53.59,267.23 L53.96,263.68 L54.33,260.26 L54.70,256.94 L55.08,253.73 L55.45,250.63 L55.82,247.63 L56.19,244.73 L56.56,241.92 L56.93,239.21 L57.31,236.58 L57.68,234.04 L58.05,231.58 L58.42,229.21 L58.79,226.91 L59.16,224.69 L59.53,222.54 L59.91,220.46 L60.28,218.45 L60.65,216.50 L61.02,214.62 L61.39,212.80 L61.76,211.04 L62.14,209.34 L62.51,207.69 L62.88,206.10 L63.25,204.56 L63.62,203.07 L63.99,201.63 L64.36,200.23 L64.74,198.89 L65.11,197.58 L65.48,196.32 L65.85,195.10 L66.22,193.92 L66.59,192.78 L66.97,191.68 L67.34,190.61 L67.71,189.58 L68.08,188.58 L68.45,187.61 L68.82,186.68 L69.19,185.77 L69.57,184.90 L69.94,184.05 L70.31,183.24 L70.68,182.44 L71.05,181.68 L71.42,180.94 L71.80,180.22 L72.17,179.53 L72.54,178.86 L72.91,178.22 L73.28,177.59 L73.65,176.98 L74.02,176.40 L74.40,175.83 L74.77,175.28 L75.14,174.75 L75.51,174.24 L75.88,173.74 L76.25,173.26 L76.63,172.80 L77.00,172.35 L77.37,171.92 L77.74,171.50 L78.11,171.09 L78.48,170.70 L78.85,170.32 L79.23,169.95 L79.60,169.60 L79.97,169.25 L80.34,168.92 L80.71,168.60 L81.08,168.29 L81.46,167.99 L81.83,167.70 L82.20,167.41 L82.57,167.14 L82.94,166.88 L83.31,166.62 L83.69,166.38 L84.06,166.14 L84.43,165.91 L84.80,165.69 L85.17,165.47 L85.54,165.26 L85.91,165.06 L86.29,164.87 L86.66,164.68 L87.03,164.49 L87.40,164.32 L87.77,164.15 L88.14,163.98 L88.52,163.82 L88.89,163.67 L89.26,163.52 L89.63,163.37 L90.00,163.23 L90.37,163.10 L90.74,162.97 L91.12,162.84 L91.49,162.72 L91.86,162.60 L92.23,162.49 L92.60,162.38 L92.97,162.27 L93.35,162.17 L93.72,162.07 L94.09,161.97 L94.46,161.88 L94.83,161.78 L95.20,161.70 L95.57,161.61 L95.95,161.53 L96.32,161.45 L96.69,161.37 L97.06,161.30 L97.43,161.30 L97.80,161.30 L98.18,161.30 L98.55,161.30 L98.92,161.30 L99.29,161.30 L99.66,161.30 L100.03,161.30 L100.40,161.30 L100.78,161.30 L101.15,161.30 L101.52,161.30 L101.89,161.30 L102.26,161.30 L102.63,161.33 L103.01,161.37 L103.38,161.42 L103.75,161.48 L104.12,161.55 L104.49,161.62 L104.86,161.70 L105.23,161.79 L105.61,161.87 L105.98,161.97 L106.35,162.07 L106.72,162.17 L107.09,162.28 L107.46,162.39 L107.84,162.51 L108.21,162.63 L108.58,162.75 L108.95,162.87 L109.32,163.00 L109.69,163.14 L110.07,163.27 L110.44,163.41 L110.81,163.55 L111.18,163.70 L111.55,163.84 L111.92,163.99 L112.29,164.15 L112.67,164.30 L113.04,164.46 L113.41,164.62 L115.64,165.64 L117.87,166.73 L120.10,167.88 L122.33,169.10 L124.56,170.38 L126.78,171.70 L129.01,173.07 L131.24,174.48 L133.47,175.92 L135.70,177.39 L137.93,178.89 L140.16,180.42 L142.39,181.97 L144.62,183.53 L146.85,185.11 L149.08,186.70 L151.31,188.30 L153.54,189.91 L155.77,191.53 L158.00,193.15 L160.22,194.77 L162.45,196.39 L164.68,198.01 L166.91,199.62 L169.14,201.23 L171.37,202.84 L173.60,204.43 L175.83,206.02 L178.06,207.59 L180.29,209.16 L182.52,210.71 L184.75,212.25 L186.98,213.77 L189.21,215.28 L191.43,216.77 L193.66,218.24 L195.89,219.70 L198.12,221.13 L200.35,222.55 L202.58,223.95 L204.81,225.33 L207.04,226.69 L209.27,228.03 L211.50,229.35 L213.73,230.64 L215.96,231.92 L218.19,233.17 L220.42,234.40 L222.64,235.61 L224.87,236.80 L227.10,237.96 L229.33,239.10 L231.56,240.22 L233.79,241.32 L236.02,242.39 L238.25,243.44 L240.48,244.47 L242.71,245.48 L244.94,246.47 L247.17,247.43 L249.40,248.37 L251.63,249.29 L253.85,250.19 L256.08,251.07 L258.31,251.92 L260.54,252.76 L262.77,253.57 L265.00,254.37 L267.23,255.14 L269.46,255.90 L271.69,256.63 L273.92,257.35 L276.15,258.05 L278.38,258.72 L280.61,259.39 L282.84,260.03 L285.07,260.65 L287.29,261.26 L289.52,261.85 L291.75,262.42 L293.98,262.98 L296.21,263.52 L298.44,264.05 L300.67,264.56 L302.90,265.05 L305.13,265.53 L307.36,266.00 L309.59,266.45 L311.82,266.88 L314.05,267.31 L316.28,267.72 L318.50,268.12 L320.73,268.50 L322.96,268.87 L325.19,269.23 L327.42,269.58 L329.65,269.92 L331.88,270.25 L334.11,270.56 L336.34,270.87 L338.57,271.16 L340.80,271.45 L343.03,271.72" fill="none" stroke="#9b9c42" stroke-width="1.5" stroke-linejoin="round"/>
<path d="M55.92,278.60 L56.29,271.69 L56.66,265.18 L57.03,259.03 L57.41,253.24 L57.78,247.78 L58.15,242.63 L58.52,237.78 L58.89,233.20 L59.26,228.88 L59.64,224.81 L60.01,220.98 L60.38,217.36 L60.75,213.95 L61.12,210.73 L61.49,207.70 L61.86,204.84 L62.24,202.14 L62.61,199.60 L62.98,197.20 L63.35,194.95 L63.72,192.81 L64.09,190.81 L64.47,188.91 L64.84,187.13 L65.21,185.44 L65.58,183.85 L65.95,182.36 L66.32,180.94 L66.69,179.61 L67.07,178.36 L67.44,177.18 L67.81,176.06 L68.18,175.01 L68.55,174.02 L68.92,173.08 L69.30,172.20 L69.67,171.37 L70.04,170.58 L70.41,169.85 L70.78,169.15 L71.15,168.49 L71.53,167.87 L71.90,167.29 L72.27,166.74 L72.64,166.22 L73.01,165.73 L73.38,165.27 L73.75,164.83 L74.13,164.42 L74.50,164.03 L74.87,163.67 L75.24,163.33 L75.61,163.00 L75.98,162.70 L76.36,162.41 L76.73,162.13 L77.10,161.88 L77.47,161.64 L77.84,161.41 L78.21,161.30 L78.58,161.30 L78.96,161.30 L79.33,161.30 L79.70,161.30 L80.07,161.30 L80.44,161.30 L80.81,161.30 L81.19,161.30 L81.56,161.30 L81.93,161.30 L82.30,161.30 L82.67,161.30 L83.04,161.30 L83.41,161.30 L83.79,161.30 L84.16,161.30 L84.53,161.30 L84.90,161.30 L85.27,161.30 L85.64,161.30 L86.02,161.30 L86.39,161.30 L86.76,161.30 L87.13,161.30 L87.50,161.31 L87.87,161.35 L88.24,161.41 L88.62,161.48 L88.99,161.56 L89.36,161.65 L89.73,161.75 L90.10,161.86 L90.47,161.97 L90.85,162.09 L91.22,162.21 L91.59,162.35 L91.96,162.48 L92.33,162.63 L92.70,162.77 L93.07,162.93 L93.45,163.08 L93.82,163.25 L94.19,163.41 L94.56,163.58 L94.93,163.76 L95.30,163.94 L95.68,164.12 L96.05,164.31 L96.42,164.50 L96.79,164.69 L97.16,164.89 L97.53,165.09 L97.91,165.29 L98.28,165.50 L98.65,165.71 L99.02,165.92 L99.39,166.14 L99.76,166.36 L100.13,166.58 L100.51,166.81 L100.88,167.03 L101.25,167.26 L101.62,167.50 L101.99,167.73 L102.36,167.97 L102.74,168.21 L103.11,168.45 L103.48,168.70 L103.85,168.95 L104.22,169.20 L104.59,169.45 L104.96,169.70 L105.34,169.96 L105.71,170.22 L106.08,170.48 L106.45,170.74 L106.82,171.00 L107.19,171.27 L107.57,171.53 L107.94,171.80 L108.31,172.08 L108.68,172.35 L109.05,172.62 L109.42,172.90 L109.79,173.18 L110.17,173.46 L110.54,173.74 L110.91,174.02 L111.28,174.30 L111.65,174.59 L112.02,174.87 L112.40,175.16 L112.77,175.45 L113.14,175.74 L113.51,176.03 L115.74,177.81 L117.97,179.62 L120.20,181.47 L122.43,183.34 L124.66,185.24 L126.89,187.15 L129.12,189.08 L131.34,191.02 L133.57,192.96 L135.80,194.91 L138.03,196.86 L140.26,198.80 L142.49,200.73 L144.72,202.66 L146.95,204.58 L149.18,206.48 L151.41,208.37 L153.64,210.24 L155.87,212.09 L158.10,213.91 L160.33,215.72 L162.55,217.50 L164.78,219.26 L167.01,220.99 L169.24,222.70 L171.47,224.37 L173.70,226.02 L175.93,227.64 L178.16,229.22 L180.39,230.78 L182.62,232.31 L184.85,233.80 L187.08,235.26 L189.31,236.69 L191.54,238.09 L193.76,239.45 L195.99,240.79 L198.22,242.09 L200.45,243.35 L202.68,244.59 L204.91,245.79 L207.14,246.97 L209.37,248.11 L211.60,249.22 L213.83,250.30 L216.06,251.34 L218.29,252.36 L220.52,253.35 L222.75,254.31 L224.98,255.24 L227.20,256.14 L229.43,257.01 L231.66,257.86 L233.89,258.68 L236.12,259.47 L238.35,260.24 L240.58,260.98 L242.81,261.69 L245.04,262.39 L247.27,263.05 L249.50,263.70 L251.73,264.32 L253.96,264.92 L256.19,265.50 L258.41,266.06 L260.64,266.60 L262.87,267.11 L265.10,267.61 L267.33,268.09 L269.56,268.56 L271.79,269.00 L274.02,269.43 L276.25,269.84 L278.48,270.23 L280.71,270.61 L282.94,270.97 L285.17,271.32 L287.40,271.66 L289.62,271.98 L291.85,272.29 L294.08,272.58 L296.31,272.86 L298.54,273.14 L300.77,273.40 L303.00,273.64 L305.23,273.88 L307.46,274.11 L309.69,274.33 L311.92,274.53 L314.15,274.73 L316.38,274.92 L318.61,275.11 L320.84,275.28 L323.06,275.44 L325.29,275.60 L327.52,275.75 L329.75,275.90 L331.98,276.03 L334.21,276.17 L336.44,276.29 L338.67,276.41 L340.90,276.52 L343.13,276.63" fill="none" stroke="#0f9a58" stroke-width="1.5" stroke-linejoin="round"/>
<path d="M50.33,278.60 L50.70,265.16 L51.07,253.14 L51.44,242.38 L51.81,232.75 L52.19,224.13 L52.56,216.42 L52.93,209.52 L53.30,203.35 L53.67,197.82 L54.04,192.88 L54.41,188.45 L54.79,184.50 L55.16,180.95 L55.53,177.78 L55.90,174.95 L56.27,172.41 L56.64,170.14 L57.02,168.10 L57.39,166.29 L57.76,164.66 L58.13,163.20 L58.50,161.90 L58.87,161.30 L59.25,161.30 L59.62,161.30 L59.99,161.30 L60.36,161.30 L60.73,161.30 L61.10,161.30 L61.47,161.30 L61.85,161.30 L62.22,161.30 L62.59,161.30 L62.96,161.30 L63.33,161.30 L63.70,161.30 L64.08,161.30 L64.45,161.30 L64.82,161.30 L65.19,161.30 L65.56,161.30 L65.93,161.30 L66.30,161.30 L66.68,161.30 L67.05,161.30 L67.42,161.30 L67.79,161.30 L68.16,161.30 L68.53,161.30 L68.91,161.30 L69.28,161.30 L69.65,161.30 L70.02,161.30 L70.39,161.30 L70.76,161.30 L71.13,161.30 L71.51,161.30 L71.88,161.30 L72.25,161.30 L72.62,161.33 L72.99,161.40 L73.36,161.48 L73.74,161.58 L74.11,161.69 L74.48,161.80 L74.85,161.92 L75.22,162.05 L75.59,162.18 L75.96,162.31 L76.34,162.45 L76.71,162.59 L77.08,162.74 L77.45,162.89 L77.82,163.04 L78.19,163.20 L78.57,163.35 L78.94,163.51 L79.31,163.68 L79.68,163.84 L80.05,164.01 L80.42,164.18 L80.80,164.36 L81.17,164.53 L81.54,164.71 L81.91,164.89 L82.28,165.07 L82.65,165.25 L83.02,165.43 L83.40,165.62 L83.77,165.80 L84.14,165.99 L84.51,166.18 L84.88,166.38 L85.25,166.57 L85.63,166.76 L86.00,166.96 L86.37,167.15 L86.74,167.35 L87.11,167.55 L87.48,167.75 L87.85,167.95 L88.23,168.16 L88.60,168.36 L88.97,168.56 L89.34,168.77 L89.71,168.98 L90.08,169.18 L90.46,169.39 L90.83,169.60 L91.20,169.81 L91.57,170.02 L91.94,170.24 L92.31,170.45 L92.68,170.66 L93.06,170.88 L93.43,171.09 L93.80,171.31 L94.17,171.52 L94.54,171.74 L94.91,171.96 L95.29,172.18 L95.66,172.40 L96.03,172.61 L96.40,172.83 L96.77,173.06 L97.14,173.28 L97.51,173.50 L97.89,173.72 L98.26,173.94 L98.63,174.17 L99.00,174.39 L99.37,174.61 L99.74,174.84 L100.12,175.06 L100.49,175.29 L100.86,175.52 L101.23,175.74 L101.60,175.97 L101.97,176.20 L102.34,176.42 L102.72,176.65 L103.09,176.88 L103.46,177.11 L103.83,177.34 L104.20,177.57 L104.57,177.79 L104.95,178.02 L105.32,178.25 L105.69,178.48 L106.06,178.71 L106.43,178.94 L106.80,179.18 L107.18,179.41 L107.55,179.64 L107.92,179.87 L108.29,180.10 L108.66,180.33 L109.03,180.56 L109.40,180.80 L109.78,181.03 L110.15,181.26 L110.52,181.49 L110.89,181.73 L111.26,181.96 L111.63,182.19 L112.01,182.42 L112.38,182.66 L112.75,182.89 L113.12,183.12 L113.49,183.36 L115.72,184.76 L117.95,186.16 L120.18,187.56 L122.41,188.96 L124.64,190.35 L126.87,191.74 L129.10,193.13 L131.33,194.51 L133.56,195.88 L135.78,197.25 L138.01,198.61 L140.24,199.95 L142.47,201.29 L144.70,202.62 L146.93,203.94 L149.16,205.24 L151.39,206.54 L153.62,207.82 L155.85,209.09 L158.08,210.35 L160.31,211.59 L162.54,212.82 L164.77,214.04 L166.99,215.24 L169.22,216.43 L171.45,217.60 L173.68,218.76 L175.91,219.91 L178.14,221.04 L180.37,222.15 L182.60,223.25 L184.83,224.34 L187.06,225.41 L189.29,226.47 L191.52,227.51 L193.75,228.53 L195.98,229.54 L198.20,230.54 L200.43,231.52 L202.66,232.48 L204.89,233.43 L207.12,234.37 L209.35,235.29 L211.58,236.20 L213.81,237.09 L216.04,237.96 L218.27,238.83 L220.50,239.67 L222.73,240.51 L224.96,241.33 L227.19,242.13 L229.42,242.92 L231.64,243.70 L233.87,244.46 L236.10,245.21 L238.33,245.95 L240.56,246.67 L242.79,247.38 L245.02,248.08 L247.25,248.76 L249.48,249.43 L251.71,250.09 L253.94,250.73 L256.17,251.37 L258.40,251.99 L260.63,252.60 L262.85,253.19 L265.08,253.78 L267.31,254.35 L269.54,254.92 L271.77,255.47 L274.00,256.01 L276.23,256.54 L278.46,257.06 L280.69,257.57 L282.92,258.06 L285.15,258.55 L287.38,259.03 L289.61,259.50 L291.84,259.95 L294.06,260.40 L296.29,260.84 L298.52,261.27 L300.75,261.69 L302.98,262.10 L305.21,262.50 L307.44,262.90 L309.67,263.28 L311.90,263.66 L314.13,264.03 L316.36,264.39 L318.59,264.74 L320.82,265.08 L323.05,265.42 L325.27,265.75 L327.50,266.07 L329.73,266.39 L331.96,266.70 L334.19,267.00 L336.42,267.29 L338.65,267.58 L340.88,267.86 L343.11,268.13" fill="none" stroke="#2c3088" stroke-width="1.5" stroke-linejoin="round"/>
<path d="M52.87,278.60 L53.24,270.26 L53.61,262.50 L53.98,255.27 L54.36,248.54 L54.73,242.27 L55.10,236.44 L55.47,231.01 L55.84,225.95 L56.21,221.24 L56.59,216.86 L56.96,212.78 L57.33,208.98 L57.70,205.44 L58.07,202.14 L58.44,199.08 L58.81,196.22 L59.19,193.56 L59.56,191.09 L59.93,188.78 L60.30,186.63 L60.67,184.64 L61.04,182.78 L61.42,181.04 L61.79,179.43 L62.16,177.93 L62.53,176.53 L62.90,175.23 L63.27,174.02 L63.64,172.89 L64.02,171.84 L64.39,170.86 L64.76,169.95 L65.13,169.10 L65.50,168.31 L65.87,167.58 L66.25,166.89 L66.62,166.25 L66.99,165.66 L67.36,165.11 L67.73,164.59 L68.10,164.12 L68.47,163.67 L68.85,163.25 L69.22,162.87 L69.59,162.51 L69.96,162.17 L70.33,161.86 L70.70,161.57 L71.08,161.30 L71.45,161.30 L71.82,161.30 L72.19,161.30 L72.56,161.30 L72.93,161.30 L73.30,161.30 L73.68,161.30 L74.05,161.30 L74.42,161.30 L74.79,161.30 L75.16,161.30 L75.53,161.30 L75.91,161.30 L76.28,161.30 L76.65,161.30 L77.02,161.30 L77.39,161.30 L77.76,161.30 L78.13,161.30 L78.51,161.30 L78.88,161.30 L79.25,161.30 L79.62,161.30 L79.99,161.30 L80.36,161.30 L80.74,161.30 L81.11,161.30 L81.48,161.30 L81.85,161.30 L82.22,161.30 L82.59,161.30 L82.97,161.30 L83.34,161.30 L83.71,161.31 L84.08,161.34 L84.45,161.40 L84.82,161.47 L85.19,161.56 L85.57,161.66 L85.94,161.77 L86.31,161.89 L86.68,162.02 L87.05,162.16 L87.42,162.31 L87.80,162.47 L88.17,162.64 L88.54,162.82 L88.91,163.00 L89.28,163.19 L89.65,163.39 L90.02,163.59 L90.40,163.81 L90.77,164.03 L91.14,164.25 L91.51,164.48 L91.88,164.72 L92.25,164.96 L92.63,165.21 L93.00,165.47 L93.37,165.73 L93.74,165.99 L94.11,166.26 L94.48,166.54 L94.85,166.82 L95.23,167.11 L95.60,167.40 L95.97,167.69 L96.34,167.99 L96.71,168.30 L97.08,168.61 L97.46,168.92 L97.83,169.24 L98.20,169.56 L98.57,169.88 L98.94,170.21 L99.31,170.55 L99.68,170.88 L100.06,171.22 L100.43,171.57 L100.80,171.91 L101.17,172.26 L101.54,172.62 L101.91,172.97 L102.29,173.33 L102.66,173.70 L103.03,174.06 L103.40,174.43 L103.77,174.80 L104.14,175.18 L104.52,175.56 L104.89,175.94 L105.26,176.32 L105.63,176.70 L106.00,177.09 L106.37,177.48 L106.74,177.87 L107.12,178.27 L107.49,178.66 L107.86,179.06 L108.23,179.46 L108.60,179.87 L108.97,180.27 L109.35,180.68 L109.72,181.09 L110.09,181.50 L110.46,181.91 L110.83,182.32 L111.20,182.74 L111.57,183.15 L111.95,183.57 L112.32,183.99 L112.69,184.41 L113.06,184.84 L113.43,185.26 L115.66,187.83 L117.89,190.43 L120.12,193.05 L122.35,195.69 L124.58,198.34 L126.81,200.99 L129.04,203.62 L131.27,206.25 L133.50,208.85 L135.73,211.42 L137.95,213.97 L140.18,216.47 L142.41,218.94 L144.64,221.36 L146.87,223.74 L149.10,226.06 L151.33,228.33 L153.56,230.54 L155.79,232.70 L158.02,234.79 L160.25,236.83 L162.48,238.81 L164.71,240.72 L166.94,242.57 L169.16,244.36 L171.39,246.08 L173.62,247.75 L175.85,249.35 L178.08,250.89 L180.31,252.36 L182.54,253.78 L184.77,255.14 L187.00,256.44 L189.23,257.69 L191.46,258.88 L193.69,260.01 L195.92,261.10 L198.15,262.13 L200.37,263.11 L202.60,264.04 L204.83,264.93 L207.06,265.77 L209.29,266.57 L211.52,267.33 L213.75,268.04 L215.98,268.72 L218.21,269.36 L220.44,269.97 L222.67,270.54 L224.90,271.07 L227.13,271.58 L229.36,272.06 L231.59,272.50 L233.81,272.93 L236.04,273.32 L238.27,273.69 L240.50,274.04 L242.73,274.37 L244.96,274.67 L247.19,274.96 L249.42,275.22 L251.65,275.47 L253.88,275.70 L256.11,275.92 L258.34,276.12 L260.57,276.31 L262.80,276.49 L265.02,276.65 L267.25,276.80 L269.48,276.94 L271.71,277.07 L273.94,277.19 L276.17,277.31 L278.40,277.41 L280.63,277.51 L282.86,277.59 L285.09,277.68 L287.32,277.75 L289.55,277.82 L291.78,277.89 L294.01,277.95 L296.23,278.00 L298.46,278.05 L300.69,278.10 L302.92,278.14 L305.15,278.18 L307.38,278.22 L309.61,278.25 L311.84,278.28 L314.07,278.31 L316.30,278.34 L318.53,278.36 L320.76,278.38 L322.99,278.40 L325.22,278.42 L327.45,278.44 L329.67,278.45 L331.90,278.46 L334.13,278.48 L336.36,278.49 L338.59,278.50 L340.82,278.51 L343.05,278.52" fill="none" stroke="#8a2a7e" stroke-width="1.5" stroke-linejoin="round"/>
<path d="M49.32,278.60 L49.69,268.73 L50.07,259.65 L50.44,251.29 L50.81,243.61 L51.18,236.53 L51.55,230.03 L51.92,224.04 L52.29,218.53 L52.67,213.47 L53.04,208.80 L53.41,204.51 L53.78,200.57 L54.15,196.94 L54.52,193.60 L54.90,190.52 L55.27,187.69 L55.64,185.09 L56.01,182.70 L56.38,180.50 L56.75,178.47 L57.12,176.61 L57.50,174.89 L57.87,173.31 L58.24,171.86 L58.61,170.52 L58.98,169.30 L59.35,168.17 L59.73,167.12 L60.10,166.17 L60.47,165.29 L60.84,164.48 L61.21,163.73 L61.58,163.05 L61.96,162.41 L62.33,161.83 L62.70,161.30 L63.07,161.30 L63.44,161.30 L63.81,161.30 L64.18,161.30 L64.56,161.30 L64.93,161.30 L65.30,161.30 L65.67,161.30 L66.04,161.30 L66.41,161.30 L66.79,161.30 L67.16,161.30 L67.53,161.30 L67.90,161.30 L68.27,161.30 L68.64,161.30 L69.01,161.30 L69.39,161.30 L69.76,161.30 L70.13,161.30 L70.50,161.30 L70.87,161.30 L71.24,161.30 L71.62,161.30 L71.99,161.30 L72.36,161.30 L72.73,161.30 L73.10,161.30 L73.47,161.30 L73.84,161.30 L74.22,161.30 L74.59,161.30 L74.96,161.30 L75.33,161.30 L75.70,161.30 L76.07,161.30 L76.45,161.30 L76.82,161.30 L77.19,161.30 L77.56,161.30 L77.93,161.30 L78.30,161.30 L78.67,161.30 L79.05,161.30 L79.42,161.30 L79.79,161.30 L80.16,161.30 L80.53,161.30 L80.90,161.30 L81.28,161.30 L81.65,161.30 L82.02,161.30 L82.39,161.30 L82.76,161.30 L83.13,161.30 L83.50,161.30 L83.88,161.30 L84.25,161.30 L84.62,161.30 L84.99,161.30 L85.36,161.30 L85.73,161.30 L86.11,161.30 L86.48,161.30 L86.85,161.30 L87.22,161.30 L87.59,161.32 L87.96,161.36 L88.34,161.42 L88.71,161.48 L89.08,161.54 L89.45,161.62 L89.82,161.69 L90.19,161.78 L90.56,161.86 L90.94,161.95 L91.31,162.05 L91.68,162.15 L92.05,162.25 L92.42,162.35 L92.79,162.46 L93.17,162.57 L93.54,162.68 L93.91,162.80 L94.28,162.92 L94.65,163.04 L95.02,163.16 L95.39,163.28 L95.77,163.41 L96.14,163.54 L96.51,163.67 L96.88,163.80 L97.25,163.94 L97.62,164.08 L98.00,164.21 L98.37,164.35 L98.74,164.50 L99.11,164.64 L99.48,164.79 L99.85,164.93 L100.22,165.08 L100.60,165.23 L100.97,165.38 L101.34,165.54 L101.71,165.69 L102.08,165.85 L102.45,166.00 L102.83,166.16 L103.20,166.32 L103.57,166.48 L103.94,166.65 L104.31,166.81 L104.68,166.97 L105.05,167.14 L105.43,167.31 L105.80,167.47 L106.17,167.64 L106.54,167.81 L106.91,167.99 L107.28,168.16 L107.66,168.33 L108.03,168.51 L108.40,168.68 L108.77,168.86 L109.14,169.03 L109.51,169.21 L109.88,169.39 L110.26,169.57 L110.63,169.75 L111.00,169.93 L111.37,170.12 L111.74,170.30 L112.11,170.48 L112.49,170.67 L112.86,170.86 L113.23,171.04 L113.60,171.23 L115.83,172.37 L118.06,173.53 L120.29,174.71 L122.52,175.91 L124.75,177.13 L126.98,178.36 L129.21,179.61 L131.43,180.86 L133.66,182.13 L135.89,183.40 L138.12,184.68 L140.35,185.96 L142.58,187.25 L144.81,188.54 L147.04,189.83 L149.27,191.12 L151.50,192.41 L153.73,193.70 L155.96,194.99 L158.19,196.28 L160.42,197.56 L162.65,198.83 L164.87,200.10 L167.10,201.37 L169.33,202.63 L171.56,203.88 L173.79,205.12 L176.02,206.36 L178.25,207.58 L180.48,208.80 L182.71,210.01 L184.94,211.21 L187.17,212.40 L189.40,213.58 L191.63,214.74 L193.86,215.90 L196.08,217.04 L198.31,218.18 L200.54,219.30 L202.77,220.40 L205.00,221.50 L207.23,222.58 L209.46,223.65 L211.69,224.71 L213.92,225.76 L216.15,226.79 L218.38,227.81 L220.61,228.81 L222.84,229.80 L225.07,230.78 L227.29,231.75 L229.52,232.70 L231.75,233.64 L233.98,234.56 L236.21,235.47 L238.44,236.37 L240.67,237.26 L242.90,238.13 L245.13,238.98 L247.36,239.83 L249.59,240.66 L251.82,241.47 L254.05,242.28 L256.28,243.07 L258.50,243.84 L260.73,244.61 L262.96,245.36 L265.19,246.10 L267.42,246.82 L269.65,247.54 L271.88,248.24 L274.11,248.92 L276.34,249.60 L278.57,250.26 L280.80,250.91 L283.03,251.55 L285.26,252.18 L287.49,252.79 L289.72,253.40 L291.94,253.99 L294.17,254.57 L296.40,255.14 L298.63,255.69 L300.86,256.24 L303.09,256.78 L305.32,257.30 L307.55,257.82 L309.78,258.32 L312.01,258.82 L314.24,259.30 L316.47,259.77 L318.70,260.24 L320.93,260.69 L323.15,261.14 L325.38,261.57 L327.61,262.00 L329.84,262.42 L332.07,262.82 L334.30,263.22 L336.53,263.61 L338.76,264.00 L340.99,264.37 L343.22,264.73" fill="none" stroke="#e6198a" stroke-width="1.5" stroke-linejoin="round"/>
<path d="M47.66,278.60 L48.03,261.59 L48.41,246.84 L48.78,234.06 L49.15,222.98 L49.52,213.37 L49.89,205.04 L50.26,197.82 L50.64,191.56 L51.01,186.14 L51.38,181.44 L51.75,177.36 L52.12,173.82 L52.49,170.76 L52.87,168.10 L53.24,165.80 L53.61,163.81 L53.98,162.08 L54.35,161.30 L54.72,161.30 L55.09,161.30 L55.47,161.30 L55.84,161.30 L56.21,161.30 L56.58,161.30 L56.95,161.30 L57.32,161.30 L57.70,161.30 L58.07,161.30 L58.44,161.30 L58.81,161.30 L59.18,161.30 L59.55,161.30 L59.92,161.30 L60.30,161.30 L60.67,161.30 L61.04,161.30 L61.41,161.30 L61.78,161.30 L62.15,161.30 L62.53,161.30 L62.90,161.30 L63.27,161.32 L63.64,161.42 L64.01,161.58 L64.38,161.76 L64.75,161.98 L65.13,162.23 L65.50,162.50 L65.87,162.79 L66.24,163.09 L66.61,163.42 L66.98,163.77 L67.36,164.13 L67.73,164.50 L68.10,164.89 L68.47,165.29 L68.84,165.70 L69.21,166.13 L69.58,166.57 L69.96,167.02 L70.33,167.48 L70.70,167.95 L71.07,168.43 L71.44,168.92 L71.81,169.42 L72.19,169.92 L72.56,170.43 L72.93,170.96 L73.30,171.49 L73.67,172.02 L74.04,172.56 L74.41,173.11 L74.79,173.67 L75.16,174.23 L75.53,174.80 L75.90,175.37 L76.27,175.95 L76.64,176.53 L77.02,177.12 L77.39,177.71 L77.76,178.31 L78.13,178.91 L78.50,179.51 L78.87,180.12 L79.25,180.73 L79.62,181.34 L79.99,181.96 L80.36,182.58 L80.73,183.20 L81.10,183.83 L81.47,184.46 L81.85,185.09 L82.22,185.72 L82.59,186.35 L82.96,186.99 L83.33,187.62 L83.70,188.26 L84.08,188.90 L84.45,189.54 L84.82,190.18 L85.19,190.82 L85.56,191.47 L85.93,192.11 L86.30,192.75 L86.68,193.40 L87.05,194.04 L87.42,194.69 L87.79,195.33 L88.16,195.98 L88.53,196.62 L88.91,197.27 L89.28,197.91 L89.65,198.55 L90.02,199.19 L90.39,199.84 L90.76,200.48 L91.13,201.12 L91.51,201.75 L91.88,202.39 L92.25,203.03 L92.62,203.66 L92.99,204.30 L93.36,204.93 L93.74,205.56 L94.11,206.19 L94.48,206.82 L94.85,207.44 L95.22,208.07 L95.59,208.69 L95.96,209.31 L96.34,209.93 L96.71,210.54 L97.08,211.16 L97.45,211.77 L97.82,212.38 L98.19,212.98 L98.57,213.59 L98.94,214.19 L99.31,214.79 L99.68,215.39 L100.05,215.98 L100.42,216.57 L100.79,217.16 L101.17,217.75 L101.54,218.33 L101.91,218.91 L102.28,219.49 L102.65,220.06 L103.02,220.64 L103.40,221.21 L103.77,221.77 L104.14,222.34 L104.51,222.90 L104.88,223.45 L105.25,224.01 L105.63,224.56 L106.00,225.10 L106.37,225.65 L106.74,226.19 L107.11,226.73 L107.48,227.26 L107.85,227.79 L108.23,228.32 L108.60,228.85 L108.97,229.37 L109.34,229.89 L109.71,230.40 L110.08,230.91 L110.46,231.42 L110.83,231.92 L111.20,232.42 L111.57,232.92 L111.94,233.41 L112.31,233.91 L112.68,234.39 L113.06,234.88 L113.43,235.36 L115.66,238.16 L117.89,240.84 L120.12,243.39 L122.34,245.81 L124.57,248.11 L126.80,250.28 L129.03,252.33 L131.26,254.27 L133.49,256.09 L135.72,257.80 L137.95,259.41 L140.18,260.91 L142.41,262.31 L144.64,263.62 L146.87,264.84 L149.10,265.98 L151.33,267.03 L153.56,268.01 L155.78,268.92 L158.01,269.76 L160.24,270.53 L162.47,271.25 L164.70,271.90 L166.93,272.51 L169.16,273.07 L171.39,273.58 L173.62,274.04 L175.85,274.47 L178.08,274.86 L180.31,275.22 L182.54,275.55 L184.77,275.85 L186.99,276.12 L189.22,276.36 L191.45,276.59 L193.68,276.79 L195.91,276.98 L198.14,277.14 L200.37,277.29 L202.60,277.43 L204.83,277.55 L207.06,277.66 L209.29,277.76 L211.52,277.85 L213.75,277.93 L215.98,278.01 L218.20,278.07 L220.43,278.13 L222.66,278.18 L224.89,278.23 L227.12,278.27 L229.35,278.31 L231.58,278.34 L233.81,278.37 L236.04,278.40 L238.27,278.42 L240.50,278.44 L242.73,278.46 L244.96,278.48 L247.19,278.49 L249.41,278.50 L251.64,278.52 L253.87,278.53 L256.10,278.53 L258.33,278.54 L260.56,278.55 L262.79,278.56 L265.02,278.56 L267.25,278.57 L269.48,278.57 L271.71,278.57 L273.94,278.58 L276.17,278.58 L278.40,278.58 L280.63,278.59 L282.85,278.59 L285.08,278.59 L287.31,278.59 L289.54,278.59 L291.77,278.59 L294.00,278.59 L296.23,278.59 L298.46,278.60 L300.69,278.60 L302.92,278.60 L305.15,278.60 L307.38,278.60 L309.61,278.60 L311.84,278.60 L314.06,278.60 L316.29,278.60 L318.52,278.60 L320.75,278.60 L322.98,278.60 L325.21,278.60 L327.44,278.60 L329.67,278.60 L331.90,278.60 L334.13,278.60 L336.36,278.60 L338.59,278.60 L340.82,278.60 L343.05,278.60" fill="none" stroke="#f39a1f" stroke-width="1.5" stroke-linejoin="round"/>
<path d="M52.29,278.60 L52.66,272.06 L53.04,265.88 L53.41,260.03 L53.78,254.50 L54.15,249.26 L54.52,244.31 L54.89,239.63 L55.26,235.20 L55.64,231.01 L56.01,227.04 L56.38,223.29 L56.75,219.75 L57.12,216.39 L57.49,213.22 L57.87,210.21 L58.24,207.37 L58.61,204.69 L58.98,202.14 L59.35,199.74 L59.72,197.46 L60.09,195.31 L60.47,193.28 L60.84,191.35 L61.21,189.53 L61.58,187.81 L61.95,186.18 L62.32,184.64 L62.70,183.18 L63.07,181.80 L63.44,180.49 L63.81,179.26 L64.18,178.09 L64.55,176.99 L64.93,175.94 L65.30,174.95 L65.67,174.02 L66.04,173.13 L66.41,172.30 L66.78,171.50 L67.15,170.75 L67.53,170.05 L67.90,169.38 L68.27,168.74 L68.64,168.14 L69.01,167.58 L69.38,167.04 L69.76,166.53 L70.13,166.05 L70.50,165.60 L70.87,165.17 L71.24,164.76 L71.61,164.38 L71.98,164.01 L72.36,163.67 L72.73,163.34 L73.10,163.04 L73.47,162.74 L73.84,162.47 L74.21,162.21 L74.59,161.96 L74.96,161.73 L75.33,161.51 L75.70,161.30 L76.07,161.30 L76.44,161.30 L76.81,161.30 L77.19,161.30 L77.56,161.30 L77.93,161.30 L78.30,161.30 L78.67,161.30 L79.04,161.30 L79.42,161.30 L79.79,161.30 L80.16,161.30 L80.53,161.30 L80.90,161.30 L81.27,161.30 L81.64,161.30 L82.02,161.30 L82.39,161.30 L82.76,161.30 L83.13,161.30 L83.50,161.30 L83.87,161.32 L84.25,161.37 L84.62,161.44 L84.99,161.52 L85.36,161.61 L85.73,161.71 L86.10,161.81 L86.47,161.93 L86.85,162.05 L87.22,162.18 L87.59,162.32 L87.96,162.46 L88.33,162.61 L88.70,162.77 L89.08,162.93 L89.45,163.09 L89.82,163.27 L90.19,163.44 L90.56,163.62 L90.93,163.81 L91.31,164.00 L91.68,164.19 L92.05,164.39 L92.42,164.59 L92.79,164.80 L93.16,165.01 L93.53,165.22 L93.91,165.44 L94.28,165.66 L94.65,165.88 L95.02,166.11 L95.39,166.34 L95.76,166.57 L96.14,166.81 L96.51,167.05 L96.88,167.29 L97.25,167.54 L97.62,167.79 L97.99,168.04 L98.36,168.29 L98.74,168.55 L99.11,168.81 L99.48,169.07 L99.85,169.33 L100.22,169.60 L100.59,169.86 L100.97,170.14 L101.34,170.41 L101.71,170.68 L102.08,170.96 L102.45,171.24 L102.82,171.52 L103.19,171.81 L103.57,172.09 L103.94,172.38 L104.31,172.67 L104.68,172.96 L105.05,173.25 L105.42,173.54 L105.80,173.84 L106.17,174.14 L106.54,174.44 L106.91,174.74 L107.28,175.04 L107.65,175.34 L108.02,175.65 L108.40,175.96 L108.77,176.26 L109.14,176.57 L109.51,176.88 L109.88,177.20 L110.25,177.51 L110.63,177.82 L111.00,178.14 L111.37,178.46 L111.74,178.77 L112.11,179.09 L112.48,179.41 L112.86,179.73 L113.23,180.06 L113.60,180.38 L115.83,182.34 L118.06,184.32 L120.29,186.33 L122.52,188.35 L124.74,190.39 L126.97,192.43 L129.20,194.48 L131.43,196.53 L133.66,198.57 L135.89,200.61 L138.12,202.64 L140.35,204.65 L142.58,206.66 L144.81,208.64 L147.04,210.60 L149.27,212.54 L151.50,214.46 L153.73,216.36 L155.95,218.22 L158.18,220.06 L160.41,221.87 L162.64,223.64 L164.87,225.39 L167.10,227.10 L169.33,228.78 L171.56,230.43 L173.79,232.04 L176.02,233.62 L178.25,235.16 L180.48,236.67 L182.71,238.14 L184.94,239.57 L187.17,240.97 L189.39,242.33 L191.62,243.66 L193.85,244.95 L196.08,246.21 L198.31,247.43 L200.54,248.62 L202.77,249.77 L205.00,250.88 L207.23,251.97 L209.46,253.02 L211.69,254.04 L213.92,255.02 L216.15,255.98 L218.38,256.90 L220.60,257.80 L222.83,258.66 L225.06,259.49 L227.29,260.30 L229.52,261.08 L231.75,261.82 L233.98,262.55 L236.21,263.24 L238.44,263.92 L240.67,264.56 L242.90,265.18 L245.13,265.78 L247.36,266.36 L249.59,266.91 L251.81,267.45 L254.04,267.96 L256.27,268.45 L258.50,268.92 L260.73,269.37 L262.96,269.80 L265.19,270.22 L267.42,270.62 L269.65,271.00 L271.88,271.37 L274.11,271.72 L276.34,272.05 L278.57,272.37 L280.80,272.68 L283.02,272.97 L285.25,273.25 L287.48,273.52 L289.71,273.78 L291.94,274.02 L294.17,274.25 L296.40,274.47 L298.63,274.69 L300.86,274.89 L303.09,275.08 L305.32,275.26 L307.55,275.44 L309.78,275.61 L312.01,275.76 L314.24,275.91 L316.46,276.06 L318.69,276.19 L320.92,276.32 L323.15,276.45 L325.38,276.56 L327.61,276.68 L329.84,276.78 L332.07,276.88 L334.30,276.98 L336.53,277.07 L338.76,277.15 L340.99,277.23 L343.22,277.31" fill="none" stroke="#9b9c42" stroke-width="1.5" stroke-linejoin="round"/>
<path d="M50.03,278.60 L50.40,265.16 L50.77,253.14 L51.15,242.38 L51.52,232.75 L51.89,224.13 L52.26,216.42 L52.63,209.52 L53.00,203.35 L53.37,197.82 L53.75,192.88 L54.12,188.45 L54.49,184.50 L54.86,180.95 L55.23,177.78 L55.60,174.95 L55.98,172.41 L56.35,170.14 L56.72,168.10 L57.09,166.29 L57.46,164.66 L57.83,163.20 L58.20,161.90 L58.58,161.30 L58.95,161.30 L59.32,161.30 L59.69,161.30 L60.06,161.30 L60.43,161.30 L60.81,161.30 L61.18,161.30 L61.55,161.30 L61.92,161.30 L62.29,161.30 L62.66,161.30 L63.03,161.30 L63.41,161.30 L63.78,161.30 L64.15,161.30 L64.52,161.30 L64.89,161.30 L65.26,161.30 L65.64,161.30 L66.01,161.30 L66.38,161.30 L66.75,161.30 L67.12,161.33 L67.49,161.42 L67.87,161.53 L68.24,161.67 L68.61,161.82 L68.98,161.99 L69.35,162.18 L69.72,162.38 L70.09,162.59 L70.47,162.82 L70.84,163.06 L71.21,163.31 L71.58,163.56 L71.95,163.83 L72.32,164.11 L72.70,164.40 L73.07,164.69 L73.44,164.99 L73.81,165.30 L74.18,165.62 L74.55,165.95 L74.92,166.28 L75.30,166.62 L75.67,166.97 L76.04,167.32 L76.41,167.67 L76.78,168.04 L77.15,168.41 L77.53,168.78 L77.90,169.16 L78.27,169.55 L78.64,169.94 L79.01,170.33 L79.38,170.73 L79.75,171.14 L80.13,171.54 L80.50,171.96 L80.87,172.37 L81.24,172.79 L81.61,173.22 L81.98,173.64 L82.36,174.07 L82.73,174.51 L83.10,174.95 L83.47,175.39 L83.84,175.83 L84.21,176.28 L84.58,176.73 L84.96,177.18 L85.33,177.64 L85.70,178.09 L86.07,178.55 L86.44,179.02 L86.81,179.48 L87.19,179.95 L87.56,180.42 L87.93,180.89 L88.30,181.36 L88.67,181.83 L89.04,182.31 L89.41,182.79 L89.79,183.27 L90.16,183.75 L90.53,184.23 L90.90,184.71 L91.27,185.20 L91.64,185.68 L92.02,186.17 L92.39,186.66 L92.76,187.15 L93.13,187.64 L93.50,188.13 L93.87,188.62 L94.25,189.11 L94.62,189.60 L94.99,190.10 L95.36,190.59 L95.73,191.09 L96.10,191.58 L96.47,192.08 L96.85,192.57 L97.22,193.07 L97.59,193.56 L97.96,194.06 L98.33,194.55 L98.70,195.05 L99.08,195.54 L99.45,196.04 L99.82,196.54 L100.19,197.03 L100.56,197.53 L100.93,198.02 L101.30,198.51 L101.68,199.01 L102.05,199.50 L102.42,200.00 L102.79,200.49 L103.16,200.98 L103.53,201.47 L103.91,201.96 L104.28,202.45 L104.65,202.94 L105.02,203.43 L105.39,203.92 L105.76,204.40 L106.13,204.89 L106.51,205.38 L106.88,205.86 L107.25,206.34 L107.62,206.83 L107.99,207.31 L108.36,207.79 L108.74,208.27 L109.11,208.74 L109.48,209.22 L109.85,209.70 L110.22,210.17 L110.59,210.64 L110.96,211.12 L111.34,211.59 L111.71,212.06 L112.08,212.52 L112.45,212.99 L112.82,213.46 L113.19,213.92 L113.57,214.38 L115.80,217.12 L118.02,219.80 L120.25,222.43 L122.48,224.98 L124.71,227.47 L126.94,229.89 L129.17,232.23 L131.40,234.50 L133.63,236.70 L135.86,238.82 L138.09,240.87 L140.32,242.84 L142.55,244.74 L144.78,246.56 L147.01,248.30 L149.23,249.98 L151.46,251.58 L153.69,253.11 L155.92,254.58 L158.15,255.97 L160.38,257.30 L162.61,258.57 L164.84,259.78 L167.07,260.92 L169.30,262.01 L171.53,263.04 L173.76,264.02 L175.99,264.94 L178.22,265.82 L180.44,266.65 L182.67,267.43 L184.90,268.16 L187.13,268.86 L189.36,269.51 L191.59,270.13 L193.82,270.71 L196.05,271.25 L198.28,271.76 L200.51,272.24 L202.74,272.69 L204.97,273.11 L207.20,273.50 L209.43,273.87 L211.65,274.22 L213.88,274.54 L216.11,274.84 L218.34,275.12 L220.57,275.38 L222.80,275.62 L225.03,275.85 L227.26,276.06 L229.49,276.25 L231.72,276.44 L233.95,276.60 L236.18,276.76 L238.41,276.91 L240.64,277.04 L242.87,277.17 L245.09,277.28 L247.32,277.39 L249.55,277.49 L251.78,277.58 L254.01,277.66 L256.24,277.74 L258.47,277.81 L260.70,277.88 L262.93,277.94 L265.16,277.99 L267.39,278.05 L269.62,278.09 L271.85,278.14 L274.08,278.18 L276.30,278.21 L278.53,278.25 L280.76,278.28 L282.99,278.31 L285.22,278.33 L287.45,278.36 L289.68,278.38 L291.91,278.40 L294.14,278.42 L296.37,278.43 L298.60,278.45 L300.83,278.46 L303.06,278.48 L305.29,278.49 L307.51,278.50 L309.74,278.51 L311.97,278.52 L314.20,278.52 L316.43,278.53 L318.66,278.54 L320.89,278.54 L323.12,278.55 L325.35,278.55 L327.58,278.56 L329.81,278.56 L332.04,278.57 L334.27,278.57 L336.50,278.57 L338.73,278.58 L340.95,278.58 L343.18,278.58" fill="none" stroke="#e6198a" stroke-width="1.5" stroke-linejoin="round"/>
<path d="M49.43,278.60 L49.80,267.50 L50.17,257.36 L50.54,248.10 L50.91,239.64 L51.28,231.92 L51.65,224.87 L52.03,218.44 L52.40,212.56 L52.77,207.20 L53.14,202.30 L53.51,197.82 L53.88,193.74 L54.26,190.01 L54.63,186.60 L55.00,183.49 L55.37,180.65 L55.74,178.06 L56.11,175.69 L56.49,173.53 L56.86,171.55 L57.23,169.75 L57.60,168.10 L57.97,166.60 L58.34,165.23 L58.71,163.98 L59.09,162.83 L59.46,161.79 L59.83,161.30 L60.20,161.30 L60.57,161.30 L60.94,161.30 L61.32,161.30 L61.69,161.30 L62.06,161.30 L62.43,161.30 L62.80,161.30 L63.17,161.30 L63.54,161.30 L63.92,161.30 L64.29,161.30 L64.66,161.30 L65.03,161.30 L65.40,161.40 L65.77,161.54 L66.15,161.73 L66.52,161.96 L66.89,162.21 L67.26,162.48 L67.63,162.78 L68.00,163.10 L68.37,163.44 L68.75,163.79 L69.12,164.17 L69.49,164.55 L69.86,164.96 L70.23,165.38 L70.60,165.81 L70.98,166.25 L71.35,166.71 L71.72,167.18 L72.09,167.65 L72.46,168.14 L72.83,168.64 L73.20,169.15 L73.58,169.67 L73.95,170.20 L74.32,170.73 L74.69,171.28 L75.06,171.83 L75.43,172.39 L75.81,172.95 L76.18,173.52 L76.55,174.10 L76.92,174.69 L77.29,175.28 L77.66,175.87 L78.03,176.48 L78.41,177.08 L78.78,177.69 L79.15,178.31 L79.52,178.93 L79.89,179.55 L80.26,180.18 L80.64,180.81 L81.01,181.45 L81.38,182.09 L81.75,182.73 L82.12,183.37 L82.49,184.02 L82.87,184.67 L83.24,185.32 L83.61,185.97 L83.98,186.63 L84.35,187.28 L84.72,187.94 L85.09,188.60 L85.47,189.26 L85.84,189.93 L86.21,190.59 L86.58,191.25 L86.95,191.92 L87.32,192.58 L87.70,193.25 L88.07,193.91 L88.44,194.58 L88.81,195.25 L89.18,195.91 L89.55,196.58 L89.92,197.24 L90.30,197.91 L90.67,198.57 L91.04,199.23 L91.41,199.90 L91.78,200.56 L92.15,201.22 L92.53,201.88 L92.90,202.54 L93.27,203.19 L93.64,203.85 L94.01,204.50 L94.38,205.16 L94.75,205.81 L95.13,206.46 L95.50,207.10 L95.87,207.75 L96.24,208.39 L96.61,209.03 L96.98,209.67 L97.36,210.31 L97.73,210.95 L98.10,211.58 L98.47,212.21 L98.84,212.84 L99.21,213.46 L99.58,214.08 L99.96,214.70 L100.33,215.32 L100.70,215.93 L101.07,216.55 L101.44,217.15 L101.81,217.76 L102.19,218.36 L102.56,218.96 L102.93,219.56 L103.30,220.15 L103.67,220.74 L104.04,221.33 L104.41,221.92 L104.79,222.50 L105.16,223.07 L105.53,223.65 L105.90,224.22 L106.27,224.79 L106.64,225.35 L107.02,225.91 L107.39,226.47 L107.76,227.02 L108.13,227.57 L108.50,228.12 L108.87,228.66 L109.25,229.20 L109.62,229.74 L109.99,230.27 L110.36,230.80 L110.73,231.33 L111.10,231.85 L111.47,232.36 L111.85,232.88 L112.22,233.39 L112.59,233.90 L112.96,234.40 L113.33,234.90 L115.56,237.81 L117.79,240.59 L120.02,243.24 L122.25,245.75 L124.48,248.12 L126.71,250.36 L128.94,252.48 L131.17,254.47 L133.40,256.34 L135.63,258.09 L137.85,259.72 L140.08,261.25 L142.31,262.68 L144.54,264.00 L146.77,265.24 L149.00,266.38 L151.23,267.44 L153.46,268.42 L155.69,269.32 L157.92,270.15 L160.15,270.92 L162.38,271.63 L164.61,272.27 L166.84,272.87 L169.06,273.41 L171.29,273.91 L173.52,274.36 L175.75,274.78 L177.98,275.15 L180.21,275.50 L182.44,275.81 L184.67,276.09 L186.90,276.35 L189.13,276.58 L191.36,276.79 L193.59,276.98 L195.82,277.15 L198.05,277.31 L200.27,277.45 L202.50,277.57 L204.73,277.68 L206.96,277.78 L209.19,277.87 L211.42,277.96 L213.65,278.03 L215.88,278.09 L218.11,278.15 L220.34,278.20 L222.57,278.25 L224.80,278.29 L227.03,278.33 L229.26,278.36 L231.49,278.39 L233.71,278.41 L235.94,278.43 L238.17,278.45 L240.40,278.47 L242.63,278.49 L244.86,278.50 L247.09,278.51 L249.32,278.52 L251.55,278.53 L253.78,278.54 L256.01,278.55 L258.24,278.56 L260.47,278.56 L262.70,278.57 L264.92,278.57 L267.15,278.57 L269.38,278.58 L271.61,278.58 L273.84,278.58 L276.07,278.59 L278.30,278.59 L280.53,278.59 L282.76,278.59 L284.99,278.59 L287.22,278.59 L289.45,278.59 L291.68,278.59 L293.91,278.60 L296.13,278.60 L298.36,278.60 L300.59,278.60 L302.82,278.60 L305.05,278.60 L307.28,278.60 L309.51,278.60 L311.74,278.60 L313.97,278.60 L316.20,278.60 L318.43,278.60 L320.66,278.60 L322.89,278.60 L325.12,278.60 L327.34,278.60 L329.57,278.60 L331.80,278.60 L334.03,278.60 L336.26,278.60 L338.49,278.60 L340.72,278.60 L342.95,278.60" fill="none" stroke="#f39a1f" stroke-width="1.5" stroke-linejoin="round"/>
<path d="M55.54,278.60 L55.91,275.33 L56.28,272.14 L56.65,269.05 L57.03,266.03 L57.40,263.11 L57.77,260.26 L58.14,257.49 L58.51,254.79 L58.88,252.17 L59.26,249.62 L59.63,247.14 L60.00,244.73 L60.37,242.38 L60.74,240.10 L61.11,237.88 L61.48,235.73 L61.86,233.63 L62.23,231.58 L62.60,229.60 L62.97,227.67 L63.34,225.79 L63.71,223.96 L64.09,222.19 L64.46,220.46 L64.83,218.78 L65.20,217.14 L65.57,215.55 L65.94,214.01 L66.32,212.50 L66.69,211.04 L67.06,209.62 L67.43,208.23 L67.80,206.89 L68.17,205.58 L68.54,204.31 L68.92,203.07 L69.29,201.86 L69.66,200.69 L70.03,199.55 L70.40,198.45 L70.77,197.37 L71.15,196.32 L71.52,195.30 L71.89,194.31 L72.26,193.35 L72.63,192.41 L73.00,191.50 L73.37,190.61 L73.75,189.75 L74.12,188.91 L74.49,188.09 L74.86,187.30 L75.23,186.52 L75.60,185.77 L75.98,185.04 L76.35,184.33 L76.72,183.64 L77.09,182.97 L77.46,182.32 L77.83,181.68 L78.20,181.06 L78.58,180.46 L78.95,179.88 L79.32,179.31 L79.69,178.75 L80.06,178.22 L80.43,177.69 L80.81,177.18 L81.18,176.69 L81.55,176.21 L81.92,175.74 L82.29,175.28 L82.66,174.84 L83.03,174.41 L83.41,173.99 L83.78,173.58 L84.15,173.19 L84.52,172.80 L84.89,172.42 L85.26,172.06 L85.64,171.71 L86.01,171.36 L86.38,171.02 L86.75,170.70 L87.12,170.38 L87.49,170.07 L87.87,169.77 L88.24,169.48 L88.61,169.20 L88.98,168.92 L89.35,168.65 L89.72,168.39 L90.09,168.14 L90.47,167.89 L90.84,167.65 L91.21,167.41 L91.58,167.19 L91.95,166.97 L92.32,166.75 L92.70,166.54 L93.07,166.34 L93.44,166.14 L93.81,165.95 L94.18,165.76 L94.55,165.58 L94.92,165.40 L95.30,165.23 L95.67,165.06 L96.04,164.90 L96.41,164.74 L96.78,164.58 L97.15,164.43 L97.53,164.29 L97.90,164.15 L98.27,164.01 L98.64,163.88 L99.01,163.74 L99.38,163.62 L99.75,163.49 L100.13,163.37 L100.50,163.26 L100.87,163.14 L101.24,163.03 L101.61,162.93 L101.98,162.82 L102.36,162.72 L102.73,162.62 L103.10,162.52 L103.47,162.43 L103.84,162.34 L104.21,162.25 L104.58,162.17 L104.96,162.08 L105.33,162.00 L105.70,161.92 L106.07,161.84 L106.44,161.77 L106.81,161.70 L107.19,161.63 L107.56,161.56 L107.93,161.49 L108.30,161.43 L108.67,161.36 L109.04,161.30 L109.41,161.30 L109.79,161.30 L110.16,161.30 L110.53,161.30 L110.90,161.30 L111.27,161.30 L111.64,161.30 L112.02,161.30 L112.39,161.30 L112.76,161.30 L113.13,161.30 L113.50,161.30 L115.73,161.30 L117.96,161.30 L120.19,161.30 L122.42,161.53 L124.65,162.09 L126.88,162.85 L129.11,163.75 L131.34,164.77 L133.57,165.89 L135.79,167.11 L138.02,168.40 L140.25,169.76 L142.48,171.19 L144.71,172.67 L146.94,174.19 L149.17,175.76 L151.40,177.37 L153.63,179.01 L155.86,180.68 L158.09,182.38 L160.32,184.09 L162.55,185.82 L164.78,187.57 L167.01,189.32 L169.23,191.09 L171.46,192.86 L173.69,194.63 L175.92,196.40 L178.15,198.17 L180.38,199.93 L182.61,201.69 L184.84,203.44 L187.07,205.18 L189.30,206.90 L191.53,208.62 L193.76,210.32 L195.99,212.00 L198.22,213.67 L200.44,215.31 L202.67,216.94 L204.90,218.55 L207.13,220.13 L209.36,221.70 L211.59,223.24 L213.82,224.76 L216.05,226.25 L218.28,227.72 L220.51,229.16 L222.74,230.58 L224.97,231.97 L227.20,233.34 L229.43,234.68 L231.65,236.00 L233.88,237.28 L236.11,238.54 L238.34,239.78 L240.57,240.98 L242.80,242.16 L245.03,243.32 L247.26,244.44 L249.49,245.54 L251.72,246.62 L253.95,247.67 L256.18,248.69 L258.41,249.68 L260.64,250.65 L262.87,251.60 L265.09,252.52 L267.32,253.42 L269.55,254.29 L271.78,255.14 L274.01,255.96 L276.24,256.76 L278.47,257.54 L280.70,258.29 L282.93,259.03 L285.16,259.74 L287.39,260.43 L289.62,261.10 L291.85,261.75 L294.08,262.38 L296.30,262.99 L298.53,263.58 L300.76,264.15 L302.99,264.70 L305.22,265.24 L307.45,265.75 L309.68,266.25 L311.91,266.74 L314.14,267.20 L316.37,267.66 L318.60,268.09 L320.83,268.51 L323.06,268.92 L325.29,269.31 L327.51,269.69 L329.74,270.05 L331.97,270.41 L334.20,270.74 L336.43,271.07 L338.66,271.39 L340.89,271.69 L343.12,271.98" fill="none" stroke="#9b9c42" stroke-width="1.5" stroke-linejoin="round"/>
<path d="M53.98,278.60 L54.35,271.36 L54.72,264.56 L55.09,258.17 L55.47,252.17 L55.84,246.53 L56.21,241.23 L56.58,236.26 L56.95,231.58 L57.32,227.19 L57.70,223.07 L58.07,219.19 L58.44,215.55 L58.81,212.13 L59.18,208.92 L59.55,205.90 L59.92,203.07 L60.30,200.41 L60.67,197.90 L61.04,195.55 L61.41,193.35 L61.78,191.27 L62.15,189.32 L62.53,187.49 L62.90,185.77 L63.27,184.16 L63.64,182.64 L64.01,181.21 L64.38,179.88 L64.75,178.62 L65.13,177.44 L65.50,176.33 L65.87,175.28 L66.24,174.30 L66.61,173.38 L66.98,172.52 L67.36,171.71 L67.73,170.94 L68.10,170.23 L68.47,169.55 L68.84,168.92 L69.21,168.33 L69.58,167.77 L69.96,167.24 L70.33,166.75 L70.70,166.29 L71.07,165.85 L71.44,165.44 L71.81,165.06 L72.19,164.70 L72.56,164.36 L72.93,164.04 L73.30,163.74 L73.67,163.46 L74.04,163.20 L74.41,162.95 L74.79,162.72 L75.16,162.50 L75.53,162.30 L75.90,162.10 L76.27,161.92 L76.64,161.75 L77.02,161.59 L77.39,161.44 L77.76,161.30 L78.13,161.30 L78.50,161.30 L78.87,161.30 L79.25,161.30 L79.62,161.30 L79.99,161.30 L80.36,161.30 L80.73,161.30 L81.10,161.30 L81.47,161.30 L81.85,161.30 L82.22,161.30 L82.59,161.30 L82.96,161.30 L83.33,161.30 L83.70,161.30 L84.08,161.30 L84.45,161.30 L84.82,161.30 L85.19,161.30 L85.56,161.30 L85.93,161.30 L86.30,161.30 L86.68,161.30 L87.05,161.30 L87.42,161.30 L87.79,161.30 L88.16,161.30 L88.53,161.30 L88.91,161.30 L89.28,161.30 L89.65,161.30 L90.02,161.30 L90.39,161.30 L90.76,161.30 L91.13,161.30 L91.51,161.30 L91.88,161.30 L92.25,161.30 L92.62,161.30 L92.99,161.30 L93.36,161.30 L93.74,161.30 L94.11,161.30 L94.48,161.30 L94.85,161.30 L95.22,161.30 L95.59,161.30 L95.96,161.30 L96.34,161.30 L96.71,161.30 L97.08,161.30 L97.45,161.30 L97.82,161.30 L98.19,161.30 L98.57,161.30 L98.94,161.30 L99.31,161.30 L99.68,161.30 L100.05,161.30 L100.42,161.30 L100.79,161.30 L101.17,161.30 L101.54,161.30 L101.91,161.30 L102.28,161.31 L102.65,161.36 L103.02,161.42 L103.40,161.50 L103.77,161.57 L104.14,161.66 L104.51,161.75 L104.88,161.84 L105.25,161.93 L105.63,162.03 L106.00,162.14 L106.37,162.24 L106.74,162.35 L107.11,162.46 L107.48,162.58 L107.85,162.69 L108.23,162.81 L108.60,162.93 L108.97,163.05 L109.34,163.17 L109.71,163.30 L110.08,163.43 L110.46,163.55 L110.83,163.69 L111.20,163.82 L111.57,163.95 L111.94,164.09 L112.31,164.22 L112.68,164.36 L113.06,164.50 L113.43,164.64 L115.66,165.50 L117.89,166.40 L120.12,167.34 L122.34,168.30 L124.57,169.28 L126.80,170.29 L129.03,171.31 L131.26,172.35 L133.49,173.40 L135.72,174.47 L137.95,175.54 L140.18,176.62 L142.41,177.72 L144.64,178.81 L146.87,179.91 L149.10,181.02 L151.33,182.13 L153.56,183.24 L155.78,184.36 L158.01,185.47 L160.24,186.59 L162.47,187.70 L164.70,188.81 L166.93,189.92 L169.16,191.03 L171.39,192.14 L173.62,193.24 L175.85,194.34 L178.08,195.43 L180.31,196.52 L182.54,197.60 L184.77,198.68 L186.99,199.75 L189.22,200.82 L191.45,201.88 L193.68,202.93 L195.91,203.98 L198.14,205.02 L200.37,206.05 L202.60,207.08 L204.83,208.09 L207.06,209.10 L209.29,210.10 L211.52,211.09 L213.75,212.08 L215.98,213.05 L218.20,214.02 L220.43,214.98 L222.66,215.93 L224.89,216.87 L227.12,217.80 L229.35,218.72 L231.58,219.63 L233.81,220.54 L236.04,221.43 L238.27,222.31 L240.50,223.19 L242.73,224.06 L244.96,224.91 L247.19,225.76 L249.41,226.60 L251.64,227.42 L253.87,228.24 L256.10,229.05 L258.33,229.85 L260.56,230.64 L262.79,231.42 L265.02,232.19 L267.25,232.95 L269.48,233.70 L271.71,234.44 L273.94,235.17 L276.17,235.90 L278.40,236.61 L280.63,237.32 L282.85,238.01 L285.08,238.70 L287.31,239.38 L289.54,240.04 L291.77,240.70 L294.00,241.35 L296.23,241.99 L298.46,242.62 L300.69,243.25 L302.92,243.86 L305.15,244.47 L307.38,245.07 L309.61,245.65 L311.84,246.23 L314.06,246.81 L316.29,247.37 L318.52,247.92 L320.75,248.47 L322.98,249.01 L325.21,249.54 L327.44,250.06 L329.67,250.58 L331.90,251.09 L334.13,251.59 L336.36,252.08 L338.59,252.56 L340.82,253.04 L343.05,253.51" fill="none" stroke="#0f9a58" stroke-width="1.5" stroke-linejoin="round"/>
<path d="M51.67,278.60 L52.04,270.09 L52.41,262.17 L52.78,254.79 L53.15,247.92 L53.52,241.53 L53.90,235.57 L54.27,230.03 L54.64,224.87 L55.01,220.06 L55.38,215.59 L55.75,211.42 L56.13,207.54 L56.50,203.93 L56.87,200.57 L57.24,197.44 L57.61,194.52 L57.98,191.81 L58.36,189.28 L58.73,186.93 L59.10,184.74 L59.47,182.70 L59.84,180.80 L60.21,179.03 L60.58,177.39 L60.96,175.85 L61.33,174.43 L61.70,173.10 L62.07,171.86 L62.44,170.71 L62.81,169.64 L63.19,168.64 L63.56,167.71 L63.93,166.84 L64.30,166.04 L64.67,165.29 L65.04,164.59 L65.41,163.94 L65.79,163.33 L66.16,162.77 L66.53,162.24 L66.90,161.76 L67.27,161.30 L67.64,161.30 L68.02,161.30 L68.39,161.30 L68.76,161.30 L69.13,161.30 L69.50,161.30 L69.87,161.30 L70.24,161.30 L70.62,161.30 L70.99,161.30 L71.36,161.30 L71.73,161.30 L72.10,161.30 L72.47,161.30 L72.85,161.30 L73.22,161.30 L73.59,161.30 L73.96,161.30 L74.33,161.30 L74.70,161.30 L75.07,161.30 L75.45,161.30 L75.82,161.30 L76.19,161.30 L76.56,161.30 L76.93,161.30 L77.30,161.30 L77.68,161.30 L78.05,161.30 L78.42,161.30 L78.79,161.30 L79.16,161.30 L79.53,161.30 L79.90,161.30 L80.28,161.30 L80.65,161.30 L81.02,161.30 L81.39,161.30 L81.76,161.30 L82.13,161.30 L82.51,161.30 L82.88,161.30 L83.25,161.30 L83.62,161.30 L83.99,161.30 L84.36,161.30 L84.74,161.30 L85.11,161.30 L85.48,161.30 L85.85,161.30 L86.22,161.30 L86.59,161.30 L86.96,161.30 L87.34,161.30 L87.71,161.30 L88.08,161.30 L88.45,161.30 L88.82,161.30 L89.19,161.30 L89.57,161.30 L89.94,161.30 L90.31,161.30 L90.68,161.30 L91.05,161.30 L91.42,161.34 L91.79,161.40 L92.17,161.46 L92.54,161.53 L92.91,161.60 L93.28,161.67 L93.65,161.76 L94.02,161.84 L94.40,161.93 L94.77,162.02 L95.14,162.11 L95.51,162.20 L95.88,162.30 L96.25,162.40 L96.62,162.50 L97.00,162.60 L97.37,162.71 L97.74,162.82 L98.11,162.92 L98.48,163.04 L98.85,163.15 L99.23,163.26 L99.60,163.37 L99.97,163.49 L100.34,163.61 L100.71,163.73 L101.08,163.85 L101.45,163.97 L101.83,164.09 L102.20,164.21 L102.57,164.34 L102.94,164.46 L103.31,164.59 L103.68,164.72 L104.06,164.85 L104.43,164.98 L104.80,165.11 L105.17,165.24 L105.54,165.37 L105.91,165.50 L106.29,165.64 L106.66,165.77 L107.03,165.91 L107.40,166.04 L107.77,166.18 L108.14,166.32 L108.51,166.46 L108.89,166.60 L109.26,166.74 L109.63,166.88 L110.00,167.02 L110.37,167.16 L110.74,167.30 L111.12,167.45 L111.49,167.59 L111.86,167.73 L112.23,167.88 L112.60,168.02 L112.97,168.17 L113.34,168.32 L115.57,169.21 L117.80,170.12 L120.03,171.04 L122.26,171.98 L124.49,172.93 L126.72,173.88 L128.95,174.85 L131.18,175.83 L133.41,176.81 L135.64,177.80 L137.87,178.80 L140.10,179.79 L142.33,180.80 L144.55,181.80 L146.78,182.81 L149.01,183.82 L151.24,184.82 L153.47,185.83 L155.70,186.84 L157.93,187.85 L160.16,188.86 L162.39,189.87 L164.62,190.87 L166.85,191.87 L169.08,192.87 L171.31,193.87 L173.54,194.86 L175.76,195.85 L177.99,196.83 L180.22,197.81 L182.45,198.79 L184.68,199.76 L186.91,200.73 L189.14,201.69 L191.37,202.65 L193.60,203.60 L195.83,204.54 L198.06,205.48 L200.29,206.41 L202.52,207.34 L204.75,208.26 L206.98,209.17 L209.20,210.08 L211.43,210.98 L213.66,211.87 L215.89,212.75 L218.12,213.63 L220.35,214.50 L222.58,215.37 L224.81,216.22 L227.04,217.07 L229.27,217.92 L231.50,218.75 L233.73,219.58 L235.96,220.40 L238.19,221.21 L240.41,222.01 L242.64,222.81 L244.87,223.60 L247.10,224.38 L249.33,225.15 L251.56,225.91 L253.79,226.67 L256.02,227.42 L258.25,228.16 L260.48,228.90 L262.71,229.62 L264.94,230.34 L267.17,231.05 L269.40,231.75 L271.62,232.45 L273.85,233.13 L276.08,233.81 L278.31,234.48 L280.54,235.15 L282.77,235.80 L285.00,236.45 L287.23,237.09 L289.46,237.73 L291.69,238.35 L293.92,238.97 L296.15,239.58 L298.38,240.18 L300.61,240.78 L302.83,241.37 L305.06,241.95 L307.29,242.52 L309.52,243.09 L311.75,243.65 L313.98,244.20 L316.21,244.74 L318.44,245.28 L320.67,245.81 L322.90,246.34 L325.13,246.85 L327.36,247.36 L329.59,247.87 L331.82,248.36 L334.05,248.85 L336.27,249.34 L338.50,249.81 L340.73,250.28 L342.96,250.75" fill="none" stroke="#2c3088" stroke-width="1.5" stroke-linejoin="round"/>
<path d="M53.51,278.60 L53.88,272.70 L54.25,267.09 L54.62,261.75 L54.99,256.68 L55.37,251.85 L55.74,247.25 L56.11,242.88 L56.48,238.72 L56.85,234.77 L57.22,231.01 L57.60,227.43 L57.97,224.03 L58.34,220.79 L58.71,217.71 L59.08,214.78 L59.45,211.99 L59.82,209.34 L60.20,206.82 L60.57,204.42 L60.94,202.14 L61.31,199.97 L61.68,197.91 L62.05,195.95 L62.43,194.08 L62.80,192.30 L63.17,190.61 L63.54,189.00 L63.91,187.47 L64.28,186.02 L64.66,184.64 L65.03,183.32 L65.40,182.07 L65.77,180.88 L66.14,179.74 L66.51,178.67 L66.88,177.64 L67.26,176.67 L67.63,175.74 L68.00,174.86 L68.37,174.02 L68.74,173.22 L69.11,172.46 L69.49,171.74 L69.86,171.05 L70.23,170.40 L70.60,169.77 L70.97,169.18 L71.34,168.62 L71.71,168.08 L72.09,167.58 L72.46,167.09 L72.83,166.63 L73.20,166.19 L73.57,165.78 L73.94,165.38 L74.32,165.00 L74.69,164.64 L75.06,164.30 L75.43,163.98 L75.80,163.67 L76.17,163.38 L76.54,163.10 L76.92,162.83 L77.29,162.58 L77.66,162.34 L78.03,162.11 L78.40,161.89 L78.77,161.68 L79.15,161.49 L79.52,161.30 L79.89,161.30 L80.26,161.30 L80.63,161.30 L81.00,161.30 L81.37,161.30 L81.75,161.30 L82.12,161.30 L82.49,161.30 L82.86,161.30 L83.23,161.30 L83.60,161.30 L83.98,161.30 L84.35,161.30 L84.72,161.30 L85.09,161.30 L85.46,161.30 L85.83,161.30 L86.20,161.30 L86.58,161.30 L86.95,161.30 L87.32,161.30 L87.69,161.30 L88.06,161.30 L88.43,161.30 L88.81,161.30 L89.18,161.30 L89.55,161.30 L89.92,161.30 L90.29,161.30 L90.66,161.30 L91.04,161.30 L91.41,161.32 L91.78,161.36 L92.15,161.41 L92.52,161.47 L92.89,161.53 L93.26,161.60 L93.64,161.68 L94.01,161.76 L94.38,161.85 L94.75,161.94 L95.12,162.04 L95.49,162.14 L95.87,162.24 L96.24,162.35 L96.61,162.47 L96.98,162.58 L97.35,162.70 L97.72,162.83 L98.09,162.95 L98.47,163.08 L98.84,163.22 L99.21,163.35 L99.58,163.49 L99.95,163.64 L100.32,163.78 L100.70,163.93 L101.07,164.08 L101.44,164.23 L101.81,164.39 L102.18,164.55 L102.55,164.71 L102.92,164.87 L103.30,165.03 L103.67,165.20 L104.04,165.37 L104.41,165.54 L104.78,165.72 L105.15,165.89 L105.53,166.07 L105.90,166.25 L106.27,166.43 L106.64,166.62 L107.01,166.80 L107.38,166.99 L107.75,167.18 L108.13,167.37 L108.50,167.56 L108.87,167.76 L109.24,167.96 L109.61,168.15 L109.98,168.35 L110.36,168.56 L110.73,168.76 L111.10,168.96 L111.47,169.17 L111.84,169.38 L112.21,169.59 L112.58,169.80 L112.96,170.01 L113.33,170.22 L115.56,171.53 L117.79,172.88 L120.02,174.27 L122.25,175.69 L124.47,177.15 L126.70,178.63 L128.93,180.14 L131.16,181.67 L133.39,183.22 L135.62,184.78 L137.85,186.35 L140.08,187.94 L142.31,189.54 L144.54,191.14 L146.77,192.74 L149.00,194.35 L151.23,195.95 L153.46,197.56 L155.68,199.16 L157.91,200.76 L160.14,202.35 L162.37,203.94 L164.60,205.51 L166.83,207.08 L169.06,208.63 L171.29,210.17 L173.52,211.70 L175.75,213.22 L177.98,214.72 L180.21,216.20 L182.44,217.67 L184.67,219.12 L186.89,220.55 L189.12,221.97 L191.35,223.36 L193.58,224.74 L195.81,226.10 L198.04,227.43 L200.27,228.75 L202.50,230.04 L204.73,231.32 L206.96,232.57 L209.19,233.80 L211.42,235.01 L213.65,236.19 L215.88,237.36 L218.11,238.50 L220.33,239.62 L222.56,240.72 L224.79,241.80 L227.02,242.86 L229.25,243.89 L231.48,244.90 L233.71,245.89 L235.94,246.86 L238.17,247.80 L240.40,248.73 L242.63,249.63 L244.86,250.52 L247.09,251.38 L249.32,252.22 L251.54,253.04 L253.77,253.84 L256.00,254.62 L258.23,255.38 L260.46,256.13 L262.69,256.85 L264.92,257.55 L267.15,258.24 L269.38,258.91 L271.61,259.56 L273.84,260.19 L276.07,260.81 L278.30,261.40 L280.53,261.98 L282.75,262.55 L284.98,263.10 L287.21,263.63 L289.44,264.15 L291.67,264.65 L293.90,265.14 L296.13,265.61 L298.36,266.07 L300.59,266.51 L302.82,266.95 L305.05,267.36 L307.28,267.77 L309.51,268.16 L311.74,268.54 L313.97,268.91 L316.19,269.27 L318.42,269.61 L320.65,269.95 L322.88,270.27 L325.11,270.58 L327.34,270.88 L329.57,271.18 L331.80,271.46 L334.03,271.73 L336.26,272.00 L338.49,272.25 L340.72,272.50 L342.95,272.73" fill="none" stroke="#8a2a7e" stroke-width="1.5" stroke-linejoin="round"/>
<path d="M49.55,278.60 L49.92,265.16 L50.29,253.14 L50.66,242.38 L51.03,232.75 L51.41,224.13 L51.78,216.42 L52.15,209.52 L52.52,203.35 L52.89,197.82 L53.26,192.88 L53.63,188.45 L54.01,184.50 L54.38,180.95 L54.75,177.78 L55.12,174.95 L55.49,172.41 L55.86,170.14 L56.24,168.10 L56.61,166.29 L56.98,164.66 L57.35,163.20 L57.72,161.90 L58.09,161.30 L58.46,161.30 L58.84,161.30 L59.21,161.30 L59.58,161.30 L59.95,161.30 L60.32,161.30 L60.69,161.30 L61.07,161.30 L61.44,161.30 L61.81,161.30 L62.18,161.30 L62.55,161.30 L62.92,161.30 L63.30,161.30 L63.67,161.30 L64.04,161.30 L64.41,161.30 L64.78,161.30 L65.15,161.30 L65.52,161.30 L65.90,161.30 L66.27,161.30 L66.64,161.30 L67.01,161.30 L67.38,161.30 L67.75,161.30 L68.13,161.30 L68.50,161.30 L68.87,161.30 L69.24,161.30 L69.61,161.30 L69.98,161.30 L70.35,161.30 L70.73,161.30 L71.10,161.30 L71.47,161.30 L71.84,161.30 L72.21,161.30 L72.58,161.30 L72.96,161.30 L73.33,161.30 L73.70,161.30 L74.07,161.30 L74.44,161.30 L74.81,161.30 L75.18,161.30 L75.56,161.30 L75.93,161.30 L76.30,161.30 L76.67,161.30 L77.04,161.30 L77.41,161.30 L77.79,161.30 L78.16,161.30 L78.53,161.30 L78.90,161.30 L79.27,161.30 L79.64,161.30 L80.01,161.31 L80.39,161.36 L80.76,161.42 L81.13,161.48 L81.50,161.56 L81.87,161.64 L82.24,161.72 L82.62,161.82 L82.99,161.91 L83.36,162.01 L83.73,162.11 L84.10,162.22 L84.47,162.33 L84.84,162.44 L85.22,162.55 L85.59,162.67 L85.96,162.79 L86.33,162.91 L86.70,163.04 L87.07,163.17 L87.45,163.30 L87.82,163.43 L88.19,163.56 L88.56,163.70 L88.93,163.83 L89.30,163.97 L89.68,164.11 L90.05,164.26 L90.42,164.40 L90.79,164.55 L91.16,164.69 L91.53,164.84 L91.90,164.99 L92.28,165.15 L92.65,165.30 L93.02,165.45 L93.39,165.61 L93.76,165.77 L94.13,165.93 L94.51,166.08 L94.88,166.25 L95.25,166.41 L95.62,166.57 L95.99,166.73 L96.36,166.90 L96.73,167.07 L97.11,167.23 L97.48,167.40 L97.85,167.57 L98.22,167.74 L98.59,167.91 L98.96,168.09 L99.34,168.26 L99.71,168.43 L100.08,168.61 L100.45,168.78 L100.82,168.96 L101.19,169.14 L101.56,169.32 L101.94,169.50 L102.31,169.68 L102.68,169.86 L103.05,170.04 L103.42,170.22 L103.79,170.40 L104.17,170.58 L104.54,170.77 L104.91,170.95 L105.28,171.14 L105.65,171.32 L106.02,171.51 L106.39,171.70 L106.77,171.89 L107.14,172.07 L107.51,172.26 L107.88,172.45 L108.25,172.64 L108.62,172.83 L109.00,173.02 L109.37,173.22 L109.74,173.41 L110.11,173.60 L110.48,173.79 L110.85,173.99 L111.22,174.18 L111.60,174.37 L111.97,174.57 L112.34,174.76 L112.71,174.96 L113.08,175.16 L113.45,175.35 L115.68,176.54 L117.91,177.74 L120.14,178.95 L122.37,180.16 L124.60,181.39 L126.83,182.62 L129.06,183.85 L131.29,185.09 L133.52,186.33 L135.75,187.57 L137.98,188.82 L140.21,190.06 L142.44,191.30 L144.66,192.54 L146.89,193.77 L149.12,195.01 L151.35,196.23 L153.58,197.46 L155.81,198.68 L158.04,199.89 L160.27,201.09 L162.50,202.29 L164.73,203.48 L166.96,204.66 L169.19,205.84 L171.42,207.00 L173.65,208.16 L175.87,209.31 L178.10,210.45 L180.33,211.58 L182.56,212.69 L184.79,213.80 L187.02,214.90 L189.25,215.99 L191.48,217.06 L193.71,218.13 L195.94,219.18 L198.17,220.22 L200.40,221.25 L202.63,222.27 L204.86,223.28 L207.08,224.27 L209.31,225.26 L211.54,226.23 L213.77,227.19 L216.00,228.13 L218.23,229.07 L220.46,229.99 L222.69,230.90 L224.92,231.80 L227.15,232.68 L229.38,233.56 L231.61,234.42 L233.84,235.27 L236.07,236.11 L238.30,236.93 L240.52,237.74 L242.75,238.55 L244.98,239.33 L247.21,240.11 L249.44,240.88 L251.67,241.63 L253.90,242.37 L256.13,243.10 L258.36,243.82 L260.59,244.53 L262.82,245.22 L265.05,245.91 L267.28,246.58 L269.51,247.24 L271.73,247.89 L273.96,248.53 L276.19,249.16 L278.42,249.78 L280.65,250.39 L282.88,250.99 L285.11,251.57 L287.34,252.15 L289.57,252.72 L291.80,253.27 L294.03,253.82 L296.26,254.36 L298.49,254.88 L300.72,255.40 L302.94,255.91 L305.17,256.40 L307.40,256.89 L309.63,257.37 L311.86,257.84 L314.09,258.31 L316.32,258.76 L318.55,259.20 L320.78,259.64 L323.01,260.07 L325.24,260.49 L327.47,260.90 L329.70,261.30 L331.93,261.69 L334.15,262.08 L336.38,262.46 L338.61,262.83 L340.84,263.20 L343.07,263.55" fill="none" stroke="#e6198a" stroke-width="1.5" stroke-linejoin="round"/>
<path d="M49.91,278.60 L50.29,266.44 L50.66,255.44 L51.03,245.48 L51.40,236.47 L51.77,228.32 L52.14,220.94 L52.51,214.27 L52.89,208.23 L53.26,202.77 L53.63,197.82 L54.00,193.35 L54.37,189.30 L54.74,185.64 L55.12,182.32 L55.49,179.32 L55.86,176.61 L56.23,174.16 L56.60,171.93 L56.97,169.92 L57.34,168.10 L57.72,166.46 L58.09,164.97 L58.46,163.62 L58.83,162.40 L59.20,161.30 L59.57,161.30 L59.95,161.30 L60.32,161.30 L60.69,161.30 L61.06,161.30 L61.43,161.30 L61.80,161.30 L62.18,161.30 L62.55,161.30 L62.92,161.30 L63.29,161.30 L63.66,161.30 L64.03,161.30 L64.40,161.30 L64.78,161.30 L65.15,161.30 L65.52,161.30 L65.89,161.30 L66.26,161.30 L66.63,161.30 L67.01,161.30 L67.38,161.30 L67.75,161.30 L68.12,161.30 L68.49,161.30 L68.86,161.30 L69.23,161.30 L69.61,161.30 L69.98,161.30 L70.35,161.30 L70.72,161.30 L71.09,161.30 L71.46,161.30 L71.84,161.30 L72.21,161.30 L72.58,161.31 L72.95,161.34 L73.32,161.39 L73.69,161.45 L74.06,161.53 L74.44,161.61 L74.81,161.69 L75.18,161.79 L75.55,161.89 L75.92,162.00 L76.29,162.11 L76.67,162.23 L77.04,162.35 L77.41,162.48 L77.78,162.61 L78.15,162.75 L78.52,162.89 L78.89,163.04 L79.27,163.19 L79.64,163.34 L80.01,163.50 L80.38,163.66 L80.75,163.82 L81.12,163.99 L81.50,164.16 L81.87,164.34 L82.24,164.52 L82.61,164.70 L82.98,164.88 L83.35,165.07 L83.72,165.26 L84.10,165.46 L84.47,165.65 L84.84,165.85 L85.21,166.05 L85.58,166.26 L85.95,166.46 L86.33,166.67 L86.70,166.88 L87.07,167.10 L87.44,167.31 L87.81,167.53 L88.18,167.75 L88.56,167.97 L88.93,168.20 L89.30,168.42 L89.67,168.65 L90.04,168.88 L90.41,169.12 L90.78,169.35 L91.16,169.59 L91.53,169.83 L91.90,170.07 L92.27,170.31 L92.64,170.55 L93.01,170.80 L93.39,171.04 L93.76,171.29 L94.13,171.54 L94.50,171.79 L94.87,172.05 L95.24,172.30 L95.61,172.56 L95.99,172.82 L96.36,173.08 L96.73,173.34 L97.10,173.60 L97.47,173.86 L97.84,174.12 L98.22,174.39 L98.59,174.66 L98.96,174.93 L99.33,175.20 L99.70,175.47 L100.07,175.74 L100.44,176.01 L100.82,176.28 L101.19,176.56 L101.56,176.83 L101.93,177.11 L102.30,177.39 L102.67,177.67 L103.05,177.95 L103.42,178.23 L103.79,178.51 L104.16,178.79 L104.53,179.08 L104.90,179.36 L105.27,179.65 L105.65,179.93 L106.02,180.22 L106.39,180.50 L106.76,180.79 L107.13,181.08 L107.50,181.37 L107.88,181.66 L108.25,181.95 L108.62,182.24 L108.99,182.54 L109.36,182.83 L109.73,183.12 L110.11,183.41 L110.48,183.71 L110.85,184.00 L111.22,184.30 L111.59,184.59 L111.96,184.89 L112.33,185.19 L112.71,185.48 L113.08,185.78 L113.45,186.08 L115.68,187.88 L117.91,189.68 L120.14,191.50 L122.37,193.31 L124.60,195.13 L126.82,196.95 L129.05,198.77 L131.28,200.58 L133.51,202.38 L135.74,204.17 L137.97,205.96 L140.20,207.72 L142.43,209.48 L144.66,211.22 L146.89,212.94 L149.12,214.64 L151.35,216.32 L153.58,217.98 L155.81,219.61 L158.03,221.23 L160.26,222.82 L162.49,224.38 L164.72,225.92 L166.95,227.44 L169.18,228.93 L171.41,230.39 L173.64,231.82 L175.87,233.23 L178.10,234.61 L180.33,235.96 L182.56,237.28 L184.79,238.58 L187.02,239.84 L189.25,241.08 L191.47,242.29 L193.70,243.47 L195.93,244.63 L198.16,245.75 L200.39,246.85 L202.62,247.92 L204.85,248.96 L207.08,249.98 L209.31,250.97 L211.54,251.93 L213.77,252.87 L216.00,253.78 L218.23,254.66 L220.46,255.52 L222.68,256.36 L224.91,257.17 L227.14,257.96 L229.37,258.72 L231.60,259.46 L233.83,260.18 L236.06,260.87 L238.29,261.55 L240.52,262.20 L242.75,262.83 L244.98,263.44 L247.21,264.03 L249.44,264.60 L251.67,265.16 L253.89,265.69 L256.12,266.21 L258.35,266.71 L260.58,267.19 L262.81,267.65 L265.04,268.10 L267.27,268.53 L269.50,268.95 L271.73,269.35 L273.96,269.74 L276.19,270.11 L278.42,270.47 L280.65,270.81 L282.88,271.15 L285.11,271.47 L287.33,271.77 L289.56,272.07 L291.79,272.36 L294.02,272.63 L296.25,272.89 L298.48,273.14 L300.71,273.39 L302.94,273.62 L305.17,273.84 L307.40,274.06 L309.63,274.26 L311.86,274.46 L314.09,274.65 L316.32,274.83 L318.54,275.01 L320.77,275.17 L323.00,275.33 L325.23,275.49 L327.46,275.63 L329.69,275.77 L331.92,275.91 L334.15,276.03 L336.38,276.16 L338.61,276.27 L340.84,276.39 L343.07,276.49" fill="none" stroke="#f39a1f" stroke-width="1.5" stroke-linejoin="round"/>
<path d="M46.40,278.60 L46.77,255.44 L47.14,236.47 L47.51,220.94 L47.89,208.23 L48.26,197.82 L48.63,189.30 L49.00,182.32 L49.37,176.61 L49.74,171.93 L50.12,168.10 L50.49,164.97 L50.86,162.40 L51.23,161.30 L51.60,161.30 L51.97,161.30 L52.34,161.30 L52.72,161.30 L53.09,161.30 L53.46,161.30 L53.83,161.30 L54.20,161.30 L54.57,161.30 L54.95,161.30 L55.32,161.30 L55.69,161.30 L56.06,161.30 L56.43,161.30 L56.80,161.30 L57.17,161.30 L57.55,161.30 L57.92,161.30 L58.29,161.30 L58.66,161.30 L59.03,161.30 L59.40,161.30 L59.78,161.30 L60.15,161.30 L60.52,161.30 L60.89,161.30 L61.26,161.30 L61.63,161.37 L62.01,161.49 L62.38,161.65 L62.75,161.83 L63.12,162.05 L63.49,162.28 L63.86,162.53 L64.23,162.81 L64.61,163.09 L64.98,163.40 L65.35,163.72 L65.72,164.05 L66.09,164.40 L66.46,164.76 L66.84,165.13 L67.21,165.51 L67.58,165.90 L67.95,166.30 L68.32,166.72 L68.69,167.14 L69.06,167.57 L69.44,168.01 L69.81,168.46 L70.18,168.92 L70.55,169.38 L70.92,169.85 L71.29,170.33 L71.67,170.81 L72.04,171.31 L72.41,171.80 L72.78,172.31 L73.15,172.82 L73.52,173.33 L73.89,173.85 L74.27,174.38 L74.64,174.91 L75.01,175.45 L75.38,175.98 L75.75,176.53 L76.12,177.08 L76.50,177.63 L76.87,178.18 L77.24,178.74 L77.61,179.31 L77.98,179.87 L78.35,180.44 L78.72,181.01 L79.10,181.59 L79.47,182.16 L79.84,182.74 L80.21,183.32 L80.58,183.91 L80.95,184.49 L81.33,185.08 L81.70,185.67 L82.07,186.26 L82.44,186.85 L82.81,187.45 L83.18,188.04 L83.56,188.64 L83.93,189.24 L84.30,189.83 L84.67,190.43 L85.04,191.03 L85.41,191.63 L85.78,192.23 L86.16,192.84 L86.53,193.44 L86.90,194.04 L87.27,194.64 L87.64,195.24 L88.01,195.84 L88.39,196.44 L88.76,197.05 L89.13,197.65 L89.50,198.25 L89.87,198.85 L90.24,199.45 L90.61,200.04 L90.99,200.64 L91.36,201.24 L91.73,201.83 L92.10,202.43 L92.47,203.02 L92.84,203.61 L93.22,204.21 L93.59,204.80 L93.96,205.39 L94.33,205.97 L94.70,206.56 L95.07,207.14 L95.44,207.73 L95.82,208.31 L96.19,208.89 L96.56,209.47 L96.93,210.04 L97.30,210.62 L97.67,211.19 L98.05,211.76 L98.42,212.33 L98.79,212.89 L99.16,213.46 L99.53,214.02 L99.90,214.58 L100.27,215.14 L100.65,215.70 L101.02,216.25 L101.39,216.80 L101.76,217.35 L102.13,217.90 L102.50,218.44 L102.88,218.98 L103.25,219.52 L103.62,220.06 L103.99,220.59 L104.36,221.12 L104.73,221.65 L105.10,222.18 L105.48,222.70 L105.85,223.22 L106.22,223.74 L106.59,224.26 L106.96,224.77 L107.33,225.28 L107.71,225.79 L108.08,226.29 L108.45,226.79 L108.82,227.29 L109.19,227.79 L109.56,228.28 L109.94,228.77 L110.31,229.26 L110.68,229.74 L111.05,230.22 L111.42,230.70 L111.79,231.17 L112.16,231.65 L112.54,232.12 L112.91,232.58 L113.28,233.04 L115.51,235.76 L117.74,238.36 L119.97,240.86 L122.20,243.24 L124.43,245.51 L126.65,247.67 L128.88,249.73 L131.11,251.68 L133.34,253.52 L135.57,255.27 L137.80,256.92 L140.03,258.47 L142.26,259.93 L144.49,261.30 L146.72,262.59 L148.95,263.80 L151.18,264.93 L153.41,265.99 L155.64,266.97 L157.87,267.89 L160.09,268.75 L162.32,269.54 L164.55,270.28 L166.78,270.97 L169.01,271.61 L171.24,272.20 L173.47,272.74 L175.70,273.24 L177.93,273.71 L180.16,274.13 L182.39,274.53 L184.62,274.89 L186.85,275.22 L189.08,275.53 L191.30,275.81 L193.53,276.07 L195.76,276.30 L197.99,276.52 L200.22,276.71 L202.45,276.89 L204.68,277.06 L206.91,277.20 L209.14,277.34 L211.37,277.46 L213.60,277.58 L215.83,277.68 L218.06,277.77 L220.29,277.85 L222.51,277.93 L224.74,278.00 L226.97,278.06 L229.20,278.11 L231.43,278.16 L233.66,278.21 L235.89,278.25 L238.12,278.29 L240.35,278.32 L242.58,278.35 L244.81,278.38 L247.04,278.40 L249.27,278.42 L251.50,278.44 L253.72,278.46 L255.95,278.48 L258.18,278.49 L260.41,278.50 L262.64,278.51 L264.87,278.52 L267.10,278.53 L269.33,278.54 L271.56,278.55 L273.79,278.55 L276.02,278.56 L278.25,278.56 L280.48,278.57 L282.71,278.57 L284.94,278.57 L287.16,278.58 L289.39,278.58 L291.62,278.58 L293.85,278.58 L296.08,278.59 L298.31,278.59 L300.54,278.59 L302.77,278.59 L305.00,278.59 L307.23,278.59 L309.46,278.59 L311.69,278.59 L313.92,278.60 L316.15,278.60 L318.37,278.60 L320.60,278.60 L322.83,278.60 L325.06,278.60 L327.29,278.60 L329.52,278.60 L331.75,278.60 L333.98,278.60 L336.21,278.60 L338.44,278.60 L340.67,278.60 L342.90,278.60" fill="none" stroke="#9b9c42" stroke-width="1.5" stroke-linejoin="round"/>
<path d="M48.50,278.60 L48.87,275.14 L49.24,271.77 L49.61,268.51 L49.99,265.34 L50.36,262.26 L50.73,259.27 L51.10,256.37 L51.47,253.55 L51.84,250.81 L52.21,248.15 L52.59,245.57 L52.96,243.07 L53.33,240.63 L53.70,238.27 L54.07,235.98 L54.44,233.75 L54.82,231.58 L55.19,229.48 L55.56,227.44 L55.93,225.46 L56.30,223.54 L56.67,221.67 L57.04,219.86 L57.42,218.10 L57.79,216.39 L58.16,214.73 L58.53,213.12 L58.90,211.55 L59.27,210.03 L59.65,208.56 L60.02,207.12 L60.39,205.73 L60.76,204.38 L61.13,203.07 L61.50,201.79 L61.88,200.56 L62.25,199.36 L62.62,198.19 L62.99,197.06 L63.36,195.96 L63.73,194.89 L64.10,193.85 L64.48,192.85 L64.85,191.87 L65.22,190.92 L65.59,190.00 L65.96,189.10 L66.33,188.23 L66.71,187.39 L67.08,186.57 L67.45,185.77 L67.82,185.00 L68.19,184.25 L68.56,183.52 L68.93,182.81 L69.31,182.13 L69.68,181.46 L70.05,180.81 L70.42,180.18 L70.79,179.57 L71.16,178.98 L71.54,178.40 L71.91,177.84 L72.28,177.30 L72.65,176.77 L73.02,176.26 L73.39,175.77 L73.76,175.28 L74.14,174.81 L74.51,174.36 L74.88,173.92 L75.25,173.49 L75.62,173.07 L75.99,172.67 L76.37,172.27 L76.74,171.89 L77.11,171.52 L77.48,171.16 L77.85,170.81 L78.22,170.47 L78.59,170.14 L78.97,169.82 L79.34,169.51 L79.71,169.21 L80.08,168.92 L80.45,168.64 L80.82,168.36 L81.20,168.09 L81.57,167.83 L81.94,167.58 L82.31,167.33 L82.68,167.09 L83.05,166.86 L83.42,166.64 L83.80,166.42 L84.17,166.21 L84.54,166.00 L84.91,165.80 L85.28,165.61 L85.65,165.42 L86.03,165.24 L86.40,165.06 L86.77,164.89 L87.14,164.72 L87.51,164.56 L87.88,164.40 L88.26,164.25 L88.63,164.10 L89.00,163.95 L89.37,163.81 L89.74,163.68 L90.11,163.54 L90.48,163.42 L90.86,163.29 L91.23,163.17 L91.60,163.05 L91.97,162.94 L92.34,162.83 L92.71,162.72 L93.09,162.62 L93.46,162.51 L93.83,162.41 L94.20,162.32 L94.57,162.23 L94.94,162.14 L95.31,162.05 L95.69,161.96 L96.06,161.88 L96.43,161.80 L96.80,161.72 L97.17,161.65 L97.54,161.57 L97.92,161.50 L98.29,161.43 L98.66,161.37 L99.03,161.30 L99.40,161.30 L99.77,161.30 L100.14,161.30 L100.52,161.30 L100.89,161.30 L101.26,161.30 L101.63,161.30 L102.00,161.30 L102.37,161.31 L102.75,161.34 L103.12,161.39 L103.49,161.44 L103.86,161.51 L104.23,161.57 L104.60,161.65 L104.97,161.73 L105.35,161.82 L105.72,161.91 L106.09,162.01 L106.46,162.11 L106.83,162.22 L107.20,162.33 L107.58,162.44 L107.95,162.56 L108.32,162.68 L108.69,162.81 L109.06,162.94 L109.43,163.07 L109.81,163.21 L110.18,163.35 L110.55,163.49 L110.92,163.63 L111.29,163.78 L111.66,163.93 L112.03,164.08 L112.41,164.24 L112.78,164.40 L113.15,164.56 L113.52,164.72 L115.75,165.76 L117.98,166.87 L120.21,168.05 L122.44,169.29 L124.67,170.59 L126.90,171.93 L129.13,173.32 L131.35,174.75 L133.58,176.22 L135.81,177.71 L138.04,179.23 L140.27,180.78 L142.50,182.35 L144.73,183.93 L146.96,185.53 L149.19,187.14 L151.42,188.77 L153.65,190.40 L155.88,192.03 L158.11,193.67 L160.34,195.31 L162.57,196.94 L164.79,198.58 L167.02,200.21 L169.25,201.83 L171.48,203.45 L173.71,205.06 L175.94,206.66 L178.17,208.25 L180.40,209.82 L182.63,211.39 L184.86,212.93 L187.09,214.46 L189.32,215.98 L191.55,217.48 L193.78,218.96 L196.00,220.42 L198.23,221.87 L200.46,223.29 L202.69,224.69 L204.92,226.08 L207.15,227.44 L209.38,228.78 L211.61,230.10 L213.84,231.40 L216.07,232.67 L218.30,233.93 L220.53,235.16 L222.76,236.36 L224.99,237.55 L227.21,238.71 L229.44,239.85 L231.67,240.96 L233.90,242.06 L236.13,243.13 L238.36,244.17 L240.59,245.20 L242.82,246.20 L245.05,247.18 L247.28,248.14 L249.51,249.07 L251.74,249.99 L253.97,250.88 L256.20,251.75 L258.43,252.60 L260.65,253.42 L262.88,254.23 L265.11,255.02 L267.34,255.78 L269.57,256.53 L271.80,257.26 L274.03,257.96 L276.26,258.65 L278.49,259.32 L280.72,259.97 L282.95,260.61 L285.18,261.22 L287.41,261.82 L289.64,262.40 L291.86,262.96 L294.09,263.51 L296.32,264.04 L298.55,264.56 L300.78,265.06 L303.01,265.54 L305.24,266.01 L307.47,266.47 L309.70,266.91 L311.93,267.33 L314.16,267.75 L316.39,268.15 L318.62,268.54 L320.85,268.91 L323.07,269.28 L325.30,269.63 L327.53,269.97 L329.76,270.30 L331.99,270.61 L334.22,270.92 L336.45,271.22 L338.68,271.50 L340.91,271.78 L343.14,272.05" fill="none" stroke="#d81f6e" stroke-width="1.5" stroke-linejoin="round"/>
<path d="M46.4,154 V282.4 M41,161.3 H46.4 M41,220 H46.4 M41,278.6 H343.6 M120.7,278.6 V282.4 M195,278.6 V282.4 M269.3,278.6 V282.4 M343.6,278.6 V282.4" fill="none" stroke="#46509f" stroke-width="1.4"/>
<text class="ax" x="31.8" y="164.6" text-anchor="end">1.0</text>
<text class="ax" x="31.8" y="223.3" text-anchor="end">0.5</text>
<text class="ax" x="31.8" y="282" text-anchor="end">0.0</text>
<text class="ax" x="45.8" y="293.1" text-anchor="middle">0</text>
<text class="ax" x="116.6" y="293.1" text-anchor="middle">200</text>
<text class="ax" x="191.5" y="293.1" text-anchor="middle">400</text>
<text class="ax" x="265" y="293.1" text-anchor="middle">600</text>
<text class="ax" x="339.8" y="293.1" text-anchor="middle">800</text>
<text class="ax" x="183.5" y="308.2" text-anchor="middle">Time (s)</text>
<text class="ax" transform="translate(11.6,218.6) rotate(-90)" text-anchor="middle" >Normalized intensity</text>
<rect x="355.8" y="155.75" width="21.6" height="1.5" fill="#d81f6e"/>
<text class="lg" x="389.6" y="160.1">RFC1</text>
<rect x="355.8" y="172.35" width="21.6" height="1.5" fill="#f39a1f"/>
<text class="lg" x="389.6" y="176.7">PARP1</text>
<rect x="355.8" y="188.95" width="21.6" height="1.5" fill="#9b9c42"/>
<text class="lg" x="389.6" y="193.3">BARD1</text>
<rect x="355.8" y="205.55" width="21.6" height="1.5" fill="#0f9a58"/>
<text class="lg" x="389.6" y="209.9">DDX5</text>
<rect x="355.8" y="222.15" width="21.6" height="1.5" fill="#2c3088"/>
<text class="lg" x="389.6" y="226.5">DDX18</text>
<rect x="355.8" y="238.75" width="21.6" height="1.5" fill="#8a2a7e"/>
<text class="lg" x="389.6" y="243.1">DDX21</text>
<rect x="355.8" y="255.35" width="21.6" height="1.5" fill="#e6198a"/>
<text class="lg" x="389.6" y="259.7">DDX24</text>
<rect x="355.8" y="271.95" width="21.6" height="1.5" fill="#f39a1f"/>
<text class="lg" x="389.6" y="276.3">DDX27</text>
<rect x="355.8" y="288.55" width="21.6" height="1.5" fill="#9b9c42"/>
<text class="lg" x="389.6" y="292.9">DDX31</text>
<rect x="355.8" y="305.15" width="21.6" height="1.5" fill="#e6198a"/>
<text class="lg" x="389.6" y="309.5">DDX49</text>
<rect x="454" y="154.95" width="20.5" height="1.5" fill="#f39a1f"/>
<text class="lg" x="487" y="159.3">DDX51</text>
<rect x="454" y="171.50" width="20.5" height="1.5" fill="#9b9c42"/>
<text class="lg" x="487" y="175.8">DDX54</text>
<rect x="454" y="188.05" width="20.5" height="1.5" fill="#0f9a58"/>
<text class="lg" x="487" y="192.4">DDX10</text>
<rect x="454" y="204.60" width="20.5" height="1.5" fill="#2c3088"/>
<text class="lg" x="487" y="208.9">DDX23</text>
<rect x="454" y="221.15" width="20.5" height="1.5" fill="#8a2a7e"/>
<text class="lg" x="487" y="225.5">DDX40</text>
<rect x="454" y="237.70" width="20.5" height="1.5" fill="#e6198a"/>
<text class="lg" x="487" y="242.0">DDX47</text>
<rect x="454" y="254.25" width="20.5" height="1.5" fill="#f39a1f"/>
<text class="lg" x="487" y="258.6">DDX52</text>
<rect x="454" y="270.80" width="20.5" height="1.5" fill="#9b9c42"/>
<text class="lg" x="487" y="275.2">DHX16</text>
<rect x="454" y="287.35" width="20.5" height="1.5" fill="#d81f6e"/>
<text class="lg" x="487" y="291.7">DHX37</text>
<text class="pl" transform="translate(0.6,318.4) scale(0.92,1)">C</text>
<rect x="0.8" y="322.1" width="190.5" height="15.0" fill="#c9202b"/>
<path d="M49.2,322.1 V337.1 M114.8,322.1 V337.1" stroke="#9c1018" stroke-width="0.8"/>
<text class="th" x="19.7" y="334.2">Gene</text>
<text class="th" x="83.3" y="327.6">Halftime of</text>
<text class="th" x="83.1" y="334">recruitment(s)</text>
<text class="th" x="152" y="334.4">Halftime of removal(s)</text>
<rect x="49.2" y="337.10" width="65.6" height="10.60" fill="#4b90d2"/>
<rect x="114.8" y="337.10" width="76.5" height="10.60" fill="#5898d6"/>
<rect x="1.2000000000000002" y="337.10" width="48.0" height="10.55" fill="#fff" stroke="#333" stroke-width="0.7"/>
<text class="tg" transform="translate(10.8,345.48) scale(0.93,1)" style="fill:#111">DHX16</text>
<text class="tn" transform="translate(53,346.28) scale(0.85,1)">3. 043861379</text>
<text class="tn" transform="translate(178.4,346.28) scale(0.85,1)" text-anchor="end">153. 8170245</text>
<rect x="49.2" y="347.65" width="65.6" height="10.60" fill="#72a8dd"/>
<rect x="114.8" y="347.65" width="76.5" height="10.60" fill="#4b90d2"/>
<rect x="1.2000000000000002" y="347.65" width="48.0" height="10.55" fill="#fff" stroke="#333" stroke-width="0.7"/>
<text class="tg" transform="translate(10.8,356.03) scale(0.93,1)" style="fill:#111">DDX27</text>
<text class="tn" transform="translate(53,356.83) scale(0.85,1)">7. 740739368</text>
<text class="tn" transform="translate(178.4,356.83) scale(0.85,1)" text-anchor="end">151. 1657437</text>
<rect x="49.2" y="358.21" width="65.6" height="10.60" fill="#c6dbf0"/>
<rect x="114.8" y="358.21" width="76.5" height="10.60" fill="#eef3fa"/>
<rect x="1.2000000000000002" y="358.21" width="48.0" height="10.55" fill="#fff" stroke="#333" stroke-width="0.7"/>
<text class="tg" transform="translate(10.8,366.58) scale(0.93,1)" style="fill:#111">DDX47</text>
<text class="tn" transform="translate(53,367.38) scale(0.85,1)">14. 01941729</text>
<text class="tn" transform="translate(178.4,367.38) scale(0.85,1)" text-anchor="end">406. 9313399</text>
<rect x="49.2" y="368.76" width="65.6" height="10.60" fill="#c9ddf1"/>
<rect x="114.8" y="368.76" width="76.5" height="10.60" fill="#4b90d2"/>
<rect x="1.2000000000000002" y="368.76" width="48.0" height="10.55" fill="#fff" stroke="#333" stroke-width="0.7"/>
<text class="tg" transform="translate(10.8,377.13) scale(0.93,1)" style="fill:#111">DDX51</text>
<text class="tn" transform="translate(53,377.93) scale(0.85,1)">14. 91224792</text>
<text class="tn" transform="translate(178.4,377.93) scale(0.85,1)" text-anchor="end">152. 8338704</text>
<rect x="49.2" y="379.31" width="65.6" height="10.60" fill="#cddff2"/>
<rect x="114.8" y="379.31" width="76.5" height="10.60" fill="#72a8dd"/>
<rect x="1.2000000000000002" y="379.31" width="48.0" height="10.55" fill="#fff" stroke="#333" stroke-width="0.7"/>
<text class="tg" transform="translate(10.8,387.69) scale(0.93,1)" style="fill:#111">DDX49</text>
<text class="tn" transform="translate(53,388.49) scale(0.85,1)">15. 26687848</text>
<text class="tn" transform="translate(178.4,388.49) scale(0.85,1)" text-anchor="end">193. 0709722</text>
<rect x="49.2" y="389.86" width="65.6" height="10.60" fill="#d3e3f3"/>
<rect x="114.8" y="389.86" width="76.5" height="10.60" fill="#c6dbf0"/>
<rect x="1.2000000000000002" y="389.86" width="48.0" height="10.55" fill="#fff" stroke="#333" stroke-width="0.7"/>
<text class="tg" transform="translate(10.8,398.24) scale(0.93,1)" style="fill:#111">DDX52</text>
<text class="tn" transform="translate(53,399.04) scale(0.85,1)">15. 57626023</text>
<text class="tn" transform="translate(178.4,399.04) scale(0.85,1)" text-anchor="end">295. 7439266</text>
<rect x="49.2" y="400.42" width="65.6" height="10.60" fill="#d6e5f4"/>
<rect x="114.8" y="400.42" width="76.5" height="10.60" fill="#fbeeee"/>
<rect x="1.2000000000000002" y="400.42" width="48.0" height="10.55" fill="#fff" stroke="#333" stroke-width="0.7"/>
<text class="tg" transform="translate(10.8,408.79) scale(0.93,1)" style="fill:#111">DDX24</text>
<text class="tn" transform="translate(53,409.59) scale(0.85,1)">15. 58857872</text>
<text class="tn" transform="translate(178.4,409.59) scale(0.85,1)" text-anchor="end">418. 4027081</text>
<rect x="49.2" y="410.97" width="65.6" height="10.60" fill="#dbe8f5"/>
<rect x="114.8" y="410.97" width="76.5" height="10.60" fill="#e7eef8"/>
<rect x="1.2000000000000002" y="410.97" width="48.0" height="10.55" fill="#fff" stroke="#333" stroke-width="0.7"/>
<text class="tg" transform="translate(10.8,419.34) scale(0.93,1)" style="fill:#111">DDX18</text>
<text class="tn" transform="translate(53,420.14) scale(0.85,1)">16. 05950697</text>
<text class="tn" transform="translate(178.4,420.14) scale(0.85,1)" text-anchor="end">348. 7685917</text>
<rect x="49.2" y="421.52" width="65.6" height="10.60" fill="#e2ecf7"/>
<rect x="114.8" y="421.52" width="76.5" height="10.60" fill="#fae1e1"/>
<rect x="1.2000000000000002" y="421.52" width="48.0" height="10.55" fill="#fff" stroke="#333" stroke-width="0.7"/>
<text class="tg" transform="translate(10.8,429.90) scale(0.93,1)" style="fill:#3a5cc0">PARP1</text>
<text class="tn" transform="translate(53,430.70) scale(0.85,1)">16. 48226969</text>
<text class="tn" transform="translate(178.4,430.70) scale(0.85,1)" text-anchor="end">462. 4579426</text>
<rect x="49.2" y="432.07" width="65.6" height="10.60" fill="#f9dcdc"/>
<rect x="114.8" y="432.07" width="76.5" height="10.60" fill="#f8d4d4"/>
<rect x="1.2000000000000002" y="432.07" width="48.0" height="10.55" fill="#fff" stroke="#333" stroke-width="0.7"/>
<text class="tg" transform="translate(10.8,440.45) scale(0.93,1)" style="fill:#111">DDX23</text>
<text class="tn" transform="translate(53,441.25) scale(0.85,1)">23. 17122896</text>
<text class="tn" transform="translate(178.4,441.25) scale(0.85,1)" text-anchor="end">506. 8537007</text>
<rect x="49.2" y="442.63" width="65.6" height="10.60" fill="#f8d6d6"/>
<rect x="114.8" y="442.63" width="76.5" height="10.60" fill="#ec6b6b"/>
<rect x="1.2000000000000002" y="442.63" width="48.0" height="10.55" fill="#fff" stroke="#333" stroke-width="0.7"/>
<text class="tg" transform="translate(10.8,451.00) scale(0.93,1)" style="fill:#3a5cc0">RFC1</text>
<text class="tn" transform="translate(53,451.80) scale(0.85,1)">23. 93645824</text>
<text class="tn" transform="translate(178.4,451.80) scale(0.85,1)" text-anchor="end">753. 1285162</text>
<rect x="49.2" y="453.18" width="65.6" height="10.60" fill="#f5c6c6"/>
<rect x="114.8" y="453.18" width="76.5" height="10.60" fill="#a9c9eb"/>
<rect x="1.2000000000000002" y="453.18" width="48.0" height="10.55" fill="#fff" stroke="#333" stroke-width="0.7"/>
<text class="tg" transform="translate(10.8,461.56) scale(0.93,1)" style="fill:#111">DDX21</text>
<text class="tn" transform="translate(53,462.36) scale(0.85,1)">26. 69095764</text>
<text class="tn" transform="translate(178.4,462.36) scale(0.85,1)" text-anchor="end">260. 9428616</text>
<rect x="49.2" y="463.73" width="65.6" height="10.60" fill="#f4bebe"/>
<rect x="114.8" y="463.73" width="76.5" height="10.60" fill="#c9ddf1"/>
<rect x="1.2000000000000002" y="463.73" width="48.0" height="10.55" fill="#fff" stroke="#333" stroke-width="0.7"/>
<text class="tg" transform="translate(10.8,472.11) scale(0.93,1)" style="fill:#111">DDX31</text>
<text class="tn" transform="translate(53,472.91) scale(0.85,1)">27. 81057012</text>
<text class="tn" transform="translate(178.4,472.91) scale(0.85,1)" text-anchor="end">300. 4934448</text>
<rect x="49.2" y="474.28" width="65.6" height="10.60" fill="#f3b6b6"/>
<rect x="114.8" y="474.28" width="76.5" height="10.60" fill="#f5f6fb"/>
<rect x="1.2000000000000002" y="474.28" width="48.0" height="10.55" fill="#fff" stroke="#333" stroke-width="0.7"/>
<text class="tg" transform="translate(10.8,482.66) scale(0.93,1)" style="fill:#111">DHX37</text>
<text class="tn" transform="translate(53,483.46) scale(0.85,1)">28. 62862701</text>
<text class="tn" transform="translate(178.4,483.46) scale(0.85,1)" text-anchor="end">400. 6702522</text>
<rect x="49.2" y="484.84" width="65.6" height="10.60" fill="#f1a6a6"/>
<rect x="114.8" y="484.84" width="76.5" height="10.60" fill="#f9dcdc"/>
<rect x="1.2000000000000002" y="484.84" width="48.0" height="10.55" fill="#fff" stroke="#333" stroke-width="0.7"/>
<text class="tg" transform="translate(10.8,493.21) scale(0.93,1)" style="fill:#111">DDX10</text>
<text class="tn" transform="translate(53,494.01) scale(0.85,1)">31. 24580978</text>
<text class="tn" transform="translate(178.4,494.01) scale(0.85,1)" text-anchor="end">500. 536327</text>
<rect x="49.2" y="495.39" width="65.6" height="10.60" fill="#f09d9d"/>
<rect x="114.8" y="495.39" width="76.5" height="10.60" fill="#ffffff"/>
<rect x="1.2000000000000002" y="495.39" width="48.0" height="10.55" fill="#fff" stroke="#333" stroke-width="0.7"/>
<text class="tg" transform="translate(10.8,503.77) scale(0.93,1)" style="fill:#111">DDX40</text>
<text class="tn" transform="translate(53,504.57) scale(0.85,1)">32. 42569444</text>
<text class="tn" transform="translate(178.4,504.57) scale(0.85,1)" text-anchor="end">375. 5862363</text>
<rect x="49.2" y="505.94" width="65.6" height="10.60" fill="#ec7272"/>
<rect x="114.8" y="505.94" width="76.5" height="10.60" fill="#f8f8fc"/>
<rect x="1.2000000000000002" y="505.94" width="48.0" height="10.55" fill="#fff" stroke="#333" stroke-width="0.7"/>
<text class="tg" transform="translate(10.8,514.32) scale(0.93,1)" style="fill:#3a5cc0">BARD1</text>
<text class="tn" transform="translate(53,515.12) scale(0.85,1)">36. 63585624</text>
<text class="tn" transform="translate(178.4,515.12) scale(0.85,1)" text-anchor="end">403. 4218329</text>
<rect x="49.2" y="516.49" width="65.6" height="10.60" fill="#ec6d6d"/>
<rect x="114.8" y="516.49" width="76.5" height="10.60" fill="#dce7f5"/>
<rect x="1.2000000000000002" y="516.49" width="48.0" height="10.55" fill="#fff" stroke="#333" stroke-width="0.7"/>
<text class="tg" transform="translate(10.8,524.87) scale(0.93,1)" style="fill:#111">DDX5</text>
<text class="tn" transform="translate(53,525.67) scale(0.85,1)">36. 89200283</text>
<text class="tn" transform="translate(178.4,525.67) scale(0.85,1)" text-anchor="end">321. 0016592</text>
<rect x="49.2" y="527.05" width="65.6" height="10.60" fill="#4186ce"/>
<rect x="114.8" y="527.05" width="76.5" height="10.60" fill="#fbe9e9"/>
<rect x="1.2000000000000002" y="527.05" width="48.0" height="10.55" fill="#fff" stroke="#333" stroke-width="0.7"/>
<text class="tg" transform="translate(10.8,535.42) scale(0.93,1)" style="fill:#111">DDX54</text>
<text class="tn" transform="translate(53,536.22) scale(0.85,1)">48. 91217952</text>
<text class="tn" transform="translate(178.4,536.22) scale(0.85,1)" text-anchor="end">431. 8923967</text>
<text class="pl" transform="translate(214,322.5) scale(0.92,1)">D</text>
<path d="M253.2,336.4 V526.5 M248.4,337.1 H253.2 M248.4,383.05 H253.2 M248.4,429 H253.2 M248.4,474.95 H253.2 M248.4,520.9 H506.9 M337.5,520.9 V526.5 M421.9,520.9 V526.5 M506.2,520.9 V526.5" fill="none" stroke="#111" stroke-width="1.4"/>
<text class="axd" x="242.5" y="339.8" text-anchor="end">800</text>
<text class="axd" x="242.5" y="385.75" text-anchor="end">600</text>
<text class="axd" x="242.5" y="431.7" text-anchor="end">400</text>
<text class="axd" x="242.5" y="477.65" text-anchor="end">200</text>
<text class="axd" x="245.4" y="523.1" text-anchor="end">0</text>
<text class="axd" x="253.6" y="538.9" text-anchor="middle">0</text>
<text class="axd" x="337.4" y="538.9" text-anchor="middle">20</text>
<text class="axd" x="421.5" y="538.9" text-anchor="middle">40</text>
<text class="axd" x="505" y="538.9" text-anchor="middle">60</text>
<text class="axd" x="364.7" y="554.7" text-anchor="middle" style="font-size:10.2px">Halftime of recruitment(s)</text>
<text class="axd" style="font-size:10.15px" transform="translate(219.6,430) rotate(-90)" text-anchor="middle" >Halftime of removal(s)</text>
<ellipse cx="293.5" cy="440.6" rx="44" ry="70" fill="none" stroke="#d9293d" stroke-width="1"/>
<ellipse cx="368.3" cy="405.6" rx="31.3" ry="79.4" fill="none" stroke="#c9ae4a" stroke-width="1"/>
<ellipse cx="448.5" cy="426" rx="46" ry="67.1" fill="none" stroke="#111" stroke-width="1.3"/>
<circle cx="266.6" cy="486.2" r="3.5" fill="#1a1110"/>
<circle cx="286.3" cy="486.8" r="3.5" fill="#1a1110"/>
<circle cx="312.7" cy="428.0" r="3.5" fill="#1a1110"/>
<circle cx="316.4" cy="486.5" r="3.5" fill="#1a1110"/>
<circle cx="317.9" cy="477.2" r="3.5" fill="#1a1110"/>
<circle cx="319.2" cy="453.6" r="3.5" fill="#1a1110"/>
<circle cx="319.3" cy="425.4" r="3.5" fill="#1a1110"/>
<circle cx="321.3" cy="441.4" r="3.5" fill="#1a1110"/>
<circle cx="323.0" cy="415.2" r="3.5" fill="#1a1110"/>
<circle cx="351.1" cy="405.0" r="3.5" fill="#1a1110"/>
<circle cx="354.3" cy="348.4" r="3.5" fill="#1a1110"/>
<circle cx="365.9" cy="461.6" r="3.5" fill="#1a1110"/>
<circle cx="370.6" cy="452.5" r="3.5" fill="#1a1110"/>
<circle cx="374.0" cy="429.4" r="3.5" fill="#1a1110"/>
<circle cx="385.1" cy="406.5" r="3.5" fill="#1a1110"/>
<circle cx="390.0" cy="435.2" r="3.5" fill="#1a1110"/>
<circle cx="407.7" cy="428.8" r="3.5" fill="#1a1110"/>
<circle cx="408.7" cy="447.8" r="3.5" fill="#1a1110"/>
<circle cx="459.2" cy="422.3" r="3.5" fill="#1a1110"/>
<text transform="translate(305.5,408.2) scale(0.95,1)" style="font-size:10px" fill="#e0283c">PARP1</text>
<text transform="translate(283.7,426.2) scale(0.95,1)" style="font-size:10px" fill="#e0283c">DDX47</text>
<text transform="translate(322.5,431.2) scale(0.95,1)" style="font-size:10px" fill="#e0283c">DDX24</text>
<text transform="translate(289.2,441.7) scale(0.95,1)" style="font-size:10px" fill="#e0283c">DDX18</text>
<text transform="translate(284.2,453.7) scale(0.95,1)" style="font-size:10px" fill="#e0283c">DDX52</text>
<text transform="translate(251.2,475) scale(0.95,1)" style="font-size:10px" fill="#e0283c">DHX16</text>
<text transform="translate(292,472.5) scale(0.95,1)" style="font-size:10px" fill="#e0283c">DDX49</text>
<text transform="translate(277,501.2) scale(0.95,1)" style="font-size:10px" fill="#e0283c">DDX27</text>
<text transform="translate(313,497.5) scale(0.95,1)" style="font-size:10px" fill="#e0283c">DDX51</text>
<text transform="translate(358.7,348.7) scale(0.95,1)" style="font-size:10px" fill="#c9ae4a">RFC1</text>
<text transform="translate(334.2,399.2) scale(0.95,1)" style="font-size:10px" fill="#c9ae4a">DDX23</text>
<text transform="translate(374.2,402.5) scale(0.95,1)" style="font-size:10px" fill="#c9ae4a">DDX10</text>
<text transform="translate(359.2,425.7) scale(0.95,1)" style="font-size:10px" fill="#c9ae4a">DDX37</text>
<text transform="translate(374.2,445) scale(0.95,1)" style="font-size:10px" fill="#c9ae4a">DDX40</text>
<text transform="translate(343.7,451.2) scale(0.95,1)" style="font-size:10px" fill="#c9ae4a">DDX31</text>
<text transform="translate(342.5,472.5) scale(0.95,1)" style="font-size:10px" fill="#c9ae4a">DDX21</text>
<text transform="translate(403.8,423.2) scale(0.95,1)" style="font-size:10px" fill="#111">BARD1</text>
<text transform="translate(461.8,431.2) scale(0.95,1)" style="font-size:10px" fill="#111">DDX54</text>
<text transform="translate(401.2,458.8) scale(0.95,1)" style="font-size:10px" fill="#111">DDX5</text>
<text class="pl" transform="translate(0.9,566.2) scale(0.92,1)">E</text>
<ellipse cx="81.9" cy="640.85" rx="80.2" ry="77.05" fill="url(#greyg)"/>
<circle cx="51" cy="638.8" r="47.6" fill="url(#brog)"/>
<clipPath id="cb"><circle cx="51" cy="638.8" r="47.6"/></clipPath>
<circle cx="107.4" cy="638.1" r="47" fill="url(#yelg)" stroke="#f6e3a0" stroke-width="0.8"/>
<circle cx="107.4" cy="638.1" r="47" fill="#eaa93a" opacity="0.7" clip-path="url(#cb)"/>
<text class="ve" x="79.3" y="583.8" text-anchor="middle" style="font-size:9.8px">DDX/DHX</text>
<text class="ve" x="34.3" y="642.4" text-anchor="middle">10</text>
<text class="ve" x="79.1" y="642.4" text-anchor="middle">17</text>
<text class="ve" x="125.9" y="642.4" text-anchor="middle">3</text>
<text class="ve" x="34.4" y="661.6" text-anchor="middle">Tumor up</text>
<text class="ve" x="120.2" y="661.2" text-anchor="middle">DDR</text>
<text class="ve" x="80.8" y="700.2" text-anchor="middle">19</text>
</svg></body></html>
